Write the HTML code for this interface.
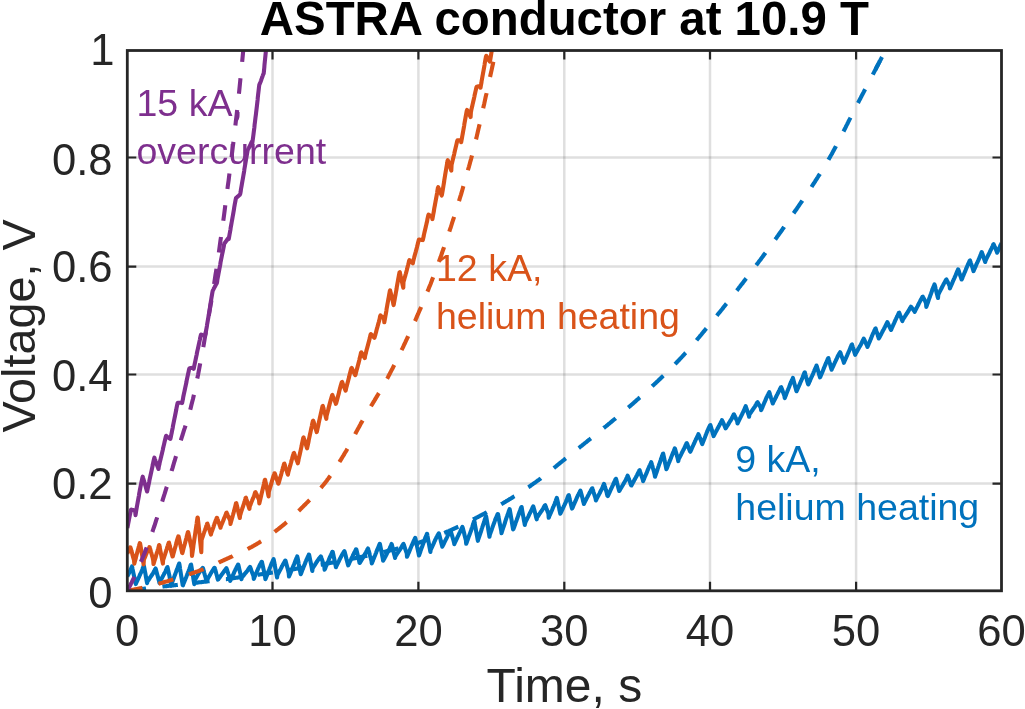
<!DOCTYPE html>
<html lang="en"><head><meta charset="utf-8"><title>ASTRA conductor at 10.9 T</title><style>html,body{margin:0;padding:0;background:#fff;overflow:hidden}svg{display:block;filter:blur(0.45px)}</style></head><body>
<svg width="1025" height="709" viewBox="0 0 1025 709">
<rect width="1025" height="709" fill="#fff"/>
<defs><clipPath id="c"><rect x="127.3" y="50.5" width="874.2" height="540.3"/></clipPath></defs>
<path d="M272.5 50.5V590.8M418.4 50.5V590.8M564.3 50.5V590.8M710.0 50.5V590.8M856.1 50.5V590.8" stroke="#262626" stroke-opacity="0.15" stroke-width="2.5" fill="none"/>
<path d="M127.3 483.6H1001.5M127.3 374.5H1001.5M127.3 266.6H1001.5M127.3 157.5H1001.5" stroke="#262626" stroke-opacity="0.15" stroke-width="2.5" fill="none"/>
<g clip-path="url(#c)" fill="none" stroke-linejoin="round">
<path d="M127.3 576.5L127.6 575.9L127.9 575.3L128.2 574.7L128.5 574.2L128.8 573.6L129.0 573.0L129.3 572.5L129.6 571.9L129.9 571.2L130.2 570.5L130.5 569.9L130.8 569.2L131.1 568.5L131.4 567.8L131.7 567.2L132.0 566.5L132.3 567.5L132.5 568.9L132.8 570.3L133.1 571.7L133.4 573.1L133.7 574.5L134.0 575.9L134.3 577.3L134.6 578.7L134.9 580.1L135.2 581.5L135.5 582.9L135.8 584.1L136.0 583.5L136.3 582.8L136.6 582.2L136.9 581.5L137.2 580.9L137.5 580.2L137.8 579.6L138.1 579.0L138.4 578.3L138.7 577.7L139.0 577.0L139.2 576.4L139.5 575.8L139.8 575.1L140.1 574.5L140.4 573.8L140.7 573.2L141.0 572.6L141.3 571.9L141.6 571.2L141.9 570.5L142.2 569.7L142.5 569.0L142.7 568.2L143.0 567.4L143.3 566.7L143.6 565.9L143.9 565.9L144.2 567.4L144.5 569.0L144.8 570.6L145.1 572.2L145.4 573.7L145.7 575.3L145.9 576.9L146.2 578.4L146.5 580.0L146.8 581.6L147.1 583.2L147.4 581.6L147.7 581.2L148.0 580.7L148.3 580.3L148.6 579.9L148.9 579.4L149.2 579.0L149.4 578.6L149.7 578.1L150.0 577.7L150.3 577.3L150.6 576.8L150.9 576.4L151.2 576.0L151.5 575.6L151.8 575.1L152.1 574.7L152.4 574.3L152.7 573.8L152.9 573.4L153.2 573.0L153.5 572.4L153.8 571.8L154.1 571.3L154.4 570.7L154.7 570.1L155.0 569.6L155.3 569.0L155.6 568.5L155.9 569.2L156.1 570.3L156.4 571.4L156.7 572.5L157.0 573.6L157.3 574.7L157.6 575.8L157.9 576.9L158.2 578.0L158.5 579.1L158.8 580.2L159.1 581.3L159.4 582.8L159.6 582.3L159.9 581.7L160.2 581.2L160.5 580.6L160.8 580.1L161.1 579.5L161.4 579.0L161.7 578.5L162.0 577.9L162.3 577.4L162.6 576.8L162.9 576.3L163.1 575.8L163.4 575.2L163.7 574.7L164.0 574.1L164.3 573.6L164.6 573.0L164.9 572.5L165.2 571.9L165.5 571.3L165.8 570.6L166.1 569.9L166.3 569.3L166.6 568.6L166.9 567.9L167.2 567.3L167.5 567.2L167.8 568.5L168.1 569.9L168.4 571.2L168.7 572.6L169.0 573.9L169.3 575.3L169.6 576.6L169.8 578.0L170.1 579.3L170.4 580.6L170.7 582.0L171.0 585.6L171.3 584.8L171.6 584.0L171.9 583.2L172.2 582.4L172.5 581.6L172.8 580.8L173.0 580.0L173.3 579.2L173.6 578.5L173.9 577.7L174.2 576.9L174.5 576.1L174.8 575.3L175.1 574.5L175.4 573.7L175.7 572.9L176.0 572.1L176.3 571.3L176.5 570.5L176.8 569.7L177.1 568.9L177.4 568.2L177.7 567.4L178.0 566.6L178.3 565.8L178.6 565.1L178.9 564.3L179.2 563.5L179.5 564.8L179.8 566.7L180.0 568.5L180.3 570.4L180.6 572.2L180.9 574.0L181.2 575.9L181.5 577.7L181.8 579.5L182.1 581.4L182.4 583.2L182.7 585.1L183.0 585.3L183.2 584.5L183.5 583.8L183.8 583.1L184.1 582.3L184.4 581.6L184.7 580.9L185.0 580.1L185.3 579.4L185.6 578.6L185.9 577.9L186.2 577.2L186.5 576.4L186.7 575.7L187.0 575.0L187.3 574.2L187.6 573.5L187.9 572.8L188.2 572.0L188.5 571.3L188.8 570.5L189.1 569.7L189.4 568.9L189.7 568.0L190.0 567.2L190.2 566.4L190.5 565.5L190.8 564.7L191.1 564.6L191.4 566.4L191.7 568.2L192.0 570.0L192.3 571.7L192.6 573.5L192.9 575.3L193.2 577.1L193.4 578.9L193.7 580.6L194.0 582.4L194.3 584.2L194.6 580.4L194.9 579.9L195.2 579.4L195.5 579.0L195.8 578.5L196.1 578.0L196.4 577.5L196.7 577.0L196.9 576.5L197.2 576.0L197.5 575.5L197.8 575.0L198.1 574.5L198.4 574.0L198.7 573.5L199.0 573.0L199.3 572.5L199.6 572.1L199.9 571.6L200.1 571.1L200.4 570.6L200.7 570.2L201.0 569.9L201.3 569.5L201.6 569.2L201.9 568.9L202.2 568.5L202.5 568.2L202.8 567.8L203.1 568.6L203.4 569.6L203.6 570.7L203.9 571.7L204.2 572.8L204.5 573.8L204.8 574.9L205.1 575.9L205.4 576.9L205.7 578.0L206.0 579.0L206.3 580.1L206.6 580.7L206.9 580.2L207.1 579.7L207.4 579.2L207.7 578.7L208.0 578.2L208.3 577.7L208.6 577.2L208.9 576.7L209.2 576.2L209.5 575.7L209.8 575.2L210.1 574.7L210.3 574.3L210.6 573.8L210.9 573.3L211.2 572.8L211.5 572.3L211.8 571.8L212.1 571.3L212.4 570.8L212.7 570.4L213.0 569.9L213.3 569.5L213.6 569.1L213.8 568.6L214.1 568.2L214.4 567.8L214.7 567.8L215.0 568.9L215.3 569.9L215.6 571.0L215.9 572.1L216.2 573.2L216.5 574.3L216.8 575.3L217.1 576.4L217.3 577.5L217.6 578.6L217.9 579.6L218.2 579.4L218.5 579.0L218.8 578.6L219.1 578.2L219.4 577.8L219.7 577.4L220.0 577.0L220.3 576.6L220.5 576.2L220.8 575.8L221.1 575.4L221.4 575.0L221.7 574.6L222.0 574.2L222.3 573.8L222.6 573.4L222.9 573.0L223.2 572.6L223.5 572.2L223.8 571.8L224.0 571.4L224.3 571.0L224.6 570.6L224.9 570.2L225.2 569.8L225.5 569.4L225.8 569.0L226.1 568.6L226.4 568.2L226.7 568.8L227.0 569.7L227.3 570.6L227.5 571.5L227.8 572.3L228.1 573.2L228.4 574.1L228.7 574.9L229.0 575.8L229.3 576.7L229.6 577.6L229.9 578.4L230.2 581.0L230.5 580.3L230.7 579.7L231.0 579.1L231.3 578.5L231.6 577.8L231.9 577.2L232.2 576.6L232.5 576.0L232.8 575.4L233.1 574.7L233.4 574.1L233.7 573.5L234.0 572.9L234.2 572.2L234.5 571.6L234.8 571.0L235.1 570.4L235.4 569.7L235.7 569.1L236.0 568.5L236.3 568.0L236.6 567.4L236.9 566.9L237.2 566.3L237.4 565.7L237.7 565.2L238.0 564.6L238.3 564.6L238.6 566.0L238.9 567.3L239.2 568.6L239.5 570.0L239.8 571.3L240.1 572.6L240.4 573.9L240.7 575.3L240.9 576.6L241.2 577.9L241.5 579.2L241.8 577.5L242.1 577.2L242.4 576.8L242.7 576.5L243.0 576.1L243.3 575.8L243.6 575.4L243.9 575.0L244.2 574.7L244.4 574.3L244.7 574.0L245.0 573.6L245.3 573.2L245.6 572.9L245.9 572.5L246.2 572.2L246.5 571.8L246.8 571.5L247.1 571.1L247.4 570.7L247.6 570.4L247.9 569.9L248.2 569.5L248.5 569.1L248.8 568.6L249.1 568.2L249.4 567.8L249.7 567.3L250.0 566.9L250.3 567.4L250.6 568.2L250.9 569.0L251.1 569.8L251.4 570.6L251.7 571.4L252.0 572.2L252.3 573.0L252.6 573.8L252.9 574.6L253.2 575.4L253.5 576.2L253.8 578.9L254.1 578.2L254.4 577.5L254.6 576.8L254.9 576.2L255.2 575.5L255.5 574.8L255.8 574.2L256.1 573.5L256.4 572.8L256.7 572.1L257.0 571.5L257.3 570.8L257.6 570.1L257.8 569.5L258.1 568.8L258.4 568.1L258.7 567.4L259.0 566.8L259.3 566.1L259.6 565.5L259.9 564.9L260.2 564.4L260.5 563.9L260.8 563.4L261.1 562.8L261.3 562.3L261.6 561.8L261.9 561.8L262.2 563.2L262.5 564.5L262.8 565.9L263.1 567.3L263.4 568.7L263.7 570.0L264.0 571.4L264.3 572.8L264.5 574.2L264.8 575.5L265.1 576.9L265.4 579.2L265.7 578.5L266.0 577.7L266.3 577.0L266.6 576.3L266.9 575.5L267.2 574.8L267.5 574.0L267.8 573.3L268.0 572.5L268.3 571.8L268.6 571.0L268.9 570.3L269.2 569.5L269.5 568.8L269.8 568.0L270.1 567.3L270.4 566.5L270.7 565.8L271.0 565.0L271.3 564.3L271.5 563.6L271.8 563.0L272.1 562.4L272.4 561.7L272.7 561.1L273.0 560.5L273.3 559.8L273.6 559.2L273.9 560.3L274.2 561.9L274.5 563.5L274.7 565.0L275.0 566.6L275.3 568.2L275.6 569.7L275.9 571.3L276.2 572.9L276.5 574.4L276.8 576.0L277.1 577.5L277.4 575.3L277.7 574.7L278.0 574.1L278.2 573.6L278.5 573.0L278.8 572.5L279.1 571.9L279.4 571.3L279.7 570.8L280.0 570.2L280.3 569.7L280.6 569.1L280.9 568.5L281.2 568.0L281.5 567.4L281.7 566.8L282.0 566.3L282.3 565.7L282.6 565.2L282.9 564.6L283.2 564.1L283.5 563.6L283.8 563.1L284.1 562.6L284.4 562.1L284.7 561.6L284.9 561.1L285.2 560.6L285.5 560.6L285.8 561.8L286.1 562.9L286.4 564.0L286.7 565.1L287.0 566.3L287.3 567.4L287.6 568.5L287.9 569.6L288.2 570.8L288.4 571.9L288.7 573.0L289.0 576.5L289.3 575.8L289.6 575.1L289.9 574.4L290.2 573.7L290.5 573.0L290.8 572.2L291.1 571.5L291.4 570.8L291.6 570.1L291.9 569.4L292.2 568.7L292.5 568.0L292.8 567.2L293.1 566.5L293.4 565.8L293.7 565.1L294.0 564.4L294.3 563.7L294.6 562.9L294.9 562.2L295.1 561.5L295.4 560.8L295.7 560.1L296.0 559.3L296.3 558.6L296.6 557.9L296.9 557.2L297.2 556.4L297.5 557.5L297.8 559.0L298.1 560.5L298.4 562.1L298.6 563.6L298.9 565.1L299.2 566.6L299.5 568.1L299.8 569.6L300.1 571.2L300.4 572.7L300.7 574.2L301.0 573.7L301.3 572.9L301.6 572.2L301.8 571.5L302.1 570.7L302.4 570.0L302.7 569.3L303.0 568.5L303.3 567.8L303.6 567.0L303.9 566.3L304.2 565.6L304.5 564.8L304.8 564.1L305.1 563.4L305.3 562.6L305.6 561.9L305.9 561.2L306.2 560.4L306.5 559.7L306.8 559.0L307.1 558.4L307.4 557.7L307.7 557.1L308.0 556.5L308.3 555.9L308.6 555.3L308.8 554.6L309.1 554.6L309.4 556.1L309.7 557.6L310.0 559.1L310.3 560.6L310.6 562.0L310.9 563.5L311.2 565.0L311.5 566.5L311.8 568.0L312.0 569.5L312.3 570.9L312.6 568.3L312.9 567.9L313.2 567.4L313.5 567.0L313.8 566.5L314.1 566.1L314.4 565.6L314.7 565.2L315.0 564.7L315.3 564.3L315.5 563.8L315.8 563.4L316.1 562.9L316.4 562.5L316.7 562.0L317.0 561.6L317.3 561.1L317.6 560.7L317.9 560.2L318.2 559.8L318.5 559.4L318.7 559.0L319.0 558.6L319.3 558.2L319.6 557.9L319.9 557.5L320.2 557.1L320.5 556.8L320.8 556.4L321.1 557.0L321.4 557.9L321.7 558.7L322.0 559.6L322.2 560.4L322.5 561.3L322.8 562.1L323.1 562.9L323.4 563.8L323.7 564.6L324.0 565.5L324.3 566.3L324.6 569.7L324.9 569.1L325.2 568.4L325.5 567.7L325.7 567.0L326.0 566.3L326.3 565.7L326.6 565.0L326.9 564.3L327.2 563.6L327.5 562.9L327.8 562.2L328.1 561.6L328.4 560.9L328.7 560.2L328.9 559.5L329.2 558.8L329.5 558.1L329.8 557.5L330.1 556.8L330.4 556.1L330.7 555.5L331.0 554.9L331.3 554.2L331.6 553.6L331.9 553.0L332.2 552.3L332.4 551.7L332.7 551.7L333.0 553.1L333.3 554.5L333.6 556.0L333.9 557.4L334.2 558.8L334.5 560.2L334.8 561.6L335.1 563.1L335.4 564.5L335.7 565.9L335.9 567.3L336.2 566.4L336.5 565.9L336.8 565.3L337.1 564.7L337.4 564.1L337.7 563.5L338.0 562.9L338.3 562.3L338.6 561.8L338.9 561.2L339.1 560.6L339.4 560.0L339.7 559.4L340.0 558.8L340.3 558.3L340.6 557.7L340.9 557.1L341.2 556.5L341.5 555.9L341.8 555.3L342.1 554.8L342.4 554.3L342.6 553.8L342.9 553.4L343.2 552.9L343.5 552.5L343.8 552.1L344.1 551.6L344.4 551.2L344.7 552.0L345.0 553.1L345.3 554.2L345.6 555.3L345.9 556.5L346.1 557.6L346.4 558.7L346.7 559.9L347.0 561.0L347.3 562.1L347.6 563.2L347.9 564.4L348.2 565.4L348.5 564.8L348.8 564.2L349.1 563.6L349.3 562.9L349.6 562.3L349.9 561.7L350.2 561.1L350.5 560.5L350.8 559.9L351.1 559.3L351.4 558.7L351.7 558.0L352.0 557.4L352.3 556.8L352.6 556.2L352.8 555.6L353.1 555.0L353.4 554.4L353.7 553.8L354.0 553.2L354.3 552.6L354.6 552.0L354.9 551.5L355.2 550.9L355.5 550.3L355.8 549.8L356.0 549.2L356.3 549.2L356.6 550.4L356.9 551.7L357.2 552.9L357.5 554.2L357.8 555.4L358.1 556.7L358.4 557.9L358.7 559.2L359.0 560.4L359.3 561.7L359.5 562.9L359.8 563.0L360.1 562.5L360.4 562.0L360.7 561.5L361.0 561.0L361.3 560.5L361.6 560.0L361.9 559.5L362.2 559.0L362.5 558.5L362.8 558.0L363.0 557.4L363.3 556.9L363.6 556.4L363.9 555.9L364.2 555.4L364.5 554.9L364.8 554.4L365.1 553.9L365.4 553.4L365.7 552.9L366.0 552.3L366.2 551.8L366.5 551.2L366.8 550.7L367.1 550.1L367.4 549.6L367.7 549.0L368.0 548.5L368.3 549.2L368.6 550.3L368.9 551.3L369.2 552.4L369.5 553.5L369.7 554.5L370.0 555.6L370.3 556.6L370.6 557.7L370.9 558.8L371.2 559.8L371.5 560.9L371.8 563.5L372.1 562.8L372.4 562.0L372.7 561.3L373.0 560.6L373.2 559.8L373.5 559.1L373.8 558.4L374.1 557.7L374.4 556.9L374.7 556.2L375.0 555.5L375.3 554.7L375.6 554.0L375.9 553.3L376.2 552.6L376.4 551.8L376.7 551.1L377.0 550.4L377.3 549.6L377.6 548.9L377.9 548.2L378.2 547.5L378.5 546.8L378.8 546.1L379.1 545.4L379.4 544.6L379.7 543.9L379.9 543.9L380.2 545.4L380.5 547.0L380.8 548.5L381.1 550.0L381.4 551.6L381.7 553.1L382.0 554.6L382.3 556.2L382.6 557.7L382.9 559.2L383.1 560.8L383.4 560.3L383.7 559.7L384.0 559.2L384.3 558.6L384.6 558.1L384.9 557.5L385.2 557.0L385.5 556.4L385.8 555.9L386.1 555.3L386.4 554.8L386.6 554.2L386.9 553.6L387.2 553.1L387.5 552.5L387.8 552.0L388.1 551.4L388.4 550.9L388.7 550.3L389.0 549.8L389.3 549.2L389.6 548.6L389.9 547.9L390.1 547.2L390.4 546.6L390.7 545.9L391.0 545.3L391.3 544.6L391.6 544.0L391.9 544.8L392.2 546.0L392.5 547.2L392.8 548.4L393.1 549.6L393.3 550.8L393.6 552.0L393.9 553.2L394.2 554.4L394.5 555.6L394.8 556.7L395.1 557.9L395.4 556.2L395.7 555.8L396.0 555.4L396.3 554.9L396.6 554.5L396.8 554.1L397.1 553.7L397.4 553.2L397.7 552.8L398.0 552.4L398.3 552.0L398.6 551.5L398.9 551.1L399.2 550.7L399.5 550.3L399.8 549.8L400.1 549.4L400.3 549.0L400.6 548.6L400.9 548.1L401.2 547.7L401.5 547.1L401.8 546.6L402.1 546.1L402.4 545.6L402.7 545.0L403.0 544.5L403.3 544.0L403.5 543.9L403.8 544.8L404.1 545.6L404.4 546.5L404.7 547.4L405.0 548.3L405.3 549.2L405.6 550.0L405.9 550.9L406.2 551.8L406.5 552.7L406.8 553.6L407.0 556.8L407.3 556.1L407.6 555.4L407.9 554.7L408.2 554.0L408.5 553.3L408.8 552.6L409.1 551.9L409.4 551.2L409.7 550.5L410.0 549.8L410.2 549.1L410.5 548.4L410.8 547.7L411.1 547.0L411.4 546.3L411.7 545.6L412.0 544.9L412.3 544.2L412.6 543.5L412.9 542.8L413.2 542.2L413.5 541.6L413.7 540.9L414.0 540.3L414.3 539.7L414.6 539.1L414.9 538.4L415.2 537.8L415.5 538.8L415.8 540.2L416.1 541.6L416.4 542.9L416.7 544.3L417.0 545.7L417.2 547.1L417.5 548.5L417.8 549.8L418.1 551.2L418.4 552.6L418.7 554.0L419.0 555.5L419.3 554.7L419.6 553.8L419.9 553.0L420.2 552.2L420.4 551.4L420.7 550.6L421.0 549.7L421.3 548.9L421.6 548.1L421.9 547.3L422.2 546.5L422.5 545.6L422.8 544.8L423.1 544.0L423.4 543.2L423.7 542.3L423.9 541.5L424.2 540.7L424.5 539.9L424.8 539.1L425.1 538.3L425.4 537.6L425.7 536.9L426.0 536.1L426.3 535.4L426.6 534.7L426.9 533.9L427.2 533.9L427.4 535.6L427.7 537.2L428.0 538.8L428.3 540.5L428.6 542.1L428.9 543.7L429.2 545.4L429.5 547.0L429.8 548.6L430.1 550.3L430.4 551.9L430.6 550.1L430.9 549.4L431.2 548.8L431.5 548.2L431.8 547.5L432.1 546.9L432.4 546.2L432.7 545.6L433.0 544.9L433.3 544.3L433.6 543.7L433.9 543.0L434.1 542.4L434.4 541.7L434.7 541.1L435.0 540.5L435.3 539.8L435.6 539.2L435.9 538.5L436.2 537.9L436.5 537.2L436.8 536.7L437.1 536.2L437.3 535.8L437.6 535.3L437.9 534.8L438.2 534.3L438.5 533.8L438.8 533.3L439.1 534.1L439.4 535.3L439.7 536.4L440.0 537.5L440.3 538.7L440.6 539.8L440.8 541.0L441.1 542.1L441.4 543.3L441.7 544.4L442.0 545.5L442.3 546.7L442.6 546.1L442.9 545.5L443.2 545.0L443.5 544.4L443.8 543.8L444.1 543.2L444.3 542.6L444.6 542.0L444.9 541.4L445.2 540.8L445.5 540.3L445.8 539.7L446.1 539.1L446.4 538.5L446.7 537.9L447.0 537.3L447.3 536.7L447.5 536.1L447.8 535.5L448.1 534.9L448.4 534.4L448.7 533.9L449.0 533.4L449.3 533.0L449.6 532.5L449.9 532.0L450.2 531.5L450.5 531.1L450.8 531.0L451.0 532.1L451.3 533.1L451.6 534.1L451.9 535.1L452.2 536.2L452.5 537.2L452.8 538.2L453.1 539.2L453.4 540.2L453.7 541.3L454.0 542.3L454.3 544.2L454.5 543.5L454.8 542.9L455.1 542.3L455.4 541.7L455.7 541.1L456.0 540.4L456.3 539.8L456.6 539.2L456.9 538.6L457.2 538.0L457.5 537.3L457.7 536.7L458.0 536.1L458.3 535.5L458.6 534.9L458.9 534.2L459.2 533.6L459.5 533.0L459.8 532.4L460.1 531.8L460.4 531.1L460.7 530.5L461.0 529.9L461.2 529.3L461.5 528.7L461.8 528.1L462.1 527.5L462.4 526.9L462.7 527.7L463.0 528.8L463.3 530.0L463.6 531.1L463.9 532.3L464.2 533.4L464.4 534.6L464.7 535.7L465.0 536.9L465.3 538.0L465.6 539.2L465.9 540.3L466.2 543.8L466.5 543.0L466.8 542.2L467.1 541.4L467.4 540.6L467.7 539.8L467.9 539.0L468.2 538.2L468.5 537.4L468.8 536.6L469.1 535.8L469.4 535.0L469.7 534.2L470.0 533.4L470.3 532.6L470.6 531.8L470.9 531.0L471.2 530.2L471.4 529.4L471.7 528.5L472.0 527.7L472.3 526.8L472.6 525.8L472.9 524.9L473.2 524.0L473.5 523.0L473.8 522.1L474.1 521.2L474.4 521.0L474.6 522.7L474.9 524.3L475.2 526.0L475.5 527.7L475.8 529.3L476.1 531.0L476.4 532.6L476.7 534.3L477.0 536.0L477.3 537.6L477.6 539.3L477.9 540.8L478.1 539.9L478.4 539.1L478.7 538.2L479.0 537.3L479.3 536.4L479.6 535.5L479.9 534.6L480.2 533.8L480.5 532.9L480.8 532.0L481.1 531.1L481.4 530.2L481.6 529.3L481.9 528.4L482.2 527.6L482.5 526.7L482.8 525.8L483.1 524.9L483.4 524.0L483.7 523.1L484.0 522.3L484.3 521.4L484.6 520.5L484.8 519.6L485.1 518.7L485.4 517.8L485.7 516.9L486.0 516.1L486.3 517.3L486.6 519.1L486.9 520.8L487.2 522.6L487.5 524.4L487.8 526.1L488.1 527.9L488.3 529.7L488.6 531.5L488.9 533.2L489.2 535.0L489.5 536.8L489.8 534.9L490.1 534.1L490.4 533.2L490.7 532.4L491.0 531.6L491.3 530.8L491.6 530.0L491.8 529.2L492.1 528.4L492.4 527.6L492.7 526.7L493.0 525.9L493.3 525.1L493.6 524.3L493.9 523.5L494.2 522.7L494.5 521.9L494.8 521.1L495.0 520.3L495.3 519.4L495.6 518.7L495.9 518.0L496.2 517.4L496.5 516.7L496.8 516.0L497.1 515.3L497.4 514.7L497.7 514.0L498.0 514.0L498.3 515.5L498.5 517.0L498.8 518.5L499.1 520.0L499.4 521.6L499.7 523.1L500.0 524.6L500.3 526.1L500.6 527.6L500.9 529.1L501.2 530.6L501.5 533.3L501.7 532.4L502.0 531.5L502.3 530.6L502.6 529.7L502.9 528.8L503.2 527.9L503.5 527.1L503.8 526.2L504.1 525.3L504.4 524.4L504.7 523.5L505.0 522.6L505.2 521.7L505.5 520.8L505.8 519.9L506.1 519.0L506.4 518.1L506.7 517.2L507.0 516.4L507.3 515.5L507.6 514.7L507.9 513.9L508.2 513.1L508.5 512.3L508.7 511.5L509.0 510.7L509.3 509.9L509.6 509.1L509.9 510.3L510.2 512.0L510.5 513.8L510.8 515.5L511.1 517.3L511.4 519.0L511.7 520.7L511.9 522.5L512.2 524.2L512.5 525.9L512.8 527.7L513.1 529.4L513.4 529.1L513.7 528.3L514.0 527.5L514.3 526.7L514.6 525.9L514.9 525.0L515.2 524.2L515.4 523.4L515.7 522.6L516.0 521.8L516.3 521.0L516.6 520.2L516.9 519.3L517.2 518.5L517.5 517.7L517.8 516.9L518.1 516.1L518.4 515.3L518.7 514.4L518.9 513.6L519.2 512.8L519.5 512.0L519.8 511.2L520.1 510.4L520.4 509.5L520.7 508.7L521.0 507.9L521.3 507.1L521.6 507.0L521.9 508.6L522.1 510.2L522.4 511.9L522.7 513.5L523.0 515.1L523.3 516.7L523.6 518.4L523.9 520.0L524.2 521.6L524.5 523.2L524.8 524.9L525.1 523.1L525.4 522.5L525.6 521.9L525.9 521.3L526.2 520.7L526.5 520.1L526.8 519.5L527.1 518.9L527.4 518.3L527.7 517.7L528.0 517.2L528.3 516.6L528.6 516.0L528.8 515.4L529.1 514.8L529.4 514.2L529.7 513.6L530.0 513.0L530.3 512.4L530.6 511.8L530.9 511.2L531.2 510.6L531.5 510.0L531.8 509.4L532.1 508.8L532.3 508.1L532.6 507.5L532.9 506.9L533.2 506.3L533.5 507.1L533.8 508.2L534.1 509.3L534.4 510.4L534.7 511.5L535.0 512.7L535.3 513.8L535.6 514.9L535.8 516.0L536.1 517.1L536.4 518.2L536.7 519.3L537.0 517.6L537.3 517.2L537.6 516.7L537.9 516.3L538.2 515.9L538.5 515.5L538.8 515.0L539.0 514.6L539.3 514.2L539.6 513.7L539.9 513.3L540.2 512.9L540.5 512.5L540.8 512.0L541.1 511.6L541.4 511.2L541.7 510.7L542.0 510.3L542.3 509.9L542.5 509.5L542.8 509.0L543.1 508.5L543.4 508.0L543.7 507.4L544.0 506.9L544.3 506.4L544.6 505.9L544.9 505.4L545.2 505.2L545.5 506.0L545.8 506.8L546.0 507.5L546.3 508.3L546.6 509.1L546.9 509.8L547.2 510.6L547.5 511.4L547.8 512.1L548.1 512.9L548.4 513.7L548.7 517.8L549.0 517.2L549.2 516.5L549.5 515.8L549.8 515.1L550.1 514.4L550.4 513.8L550.7 513.1L551.0 512.4L551.3 511.7L551.6 511.0L551.9 510.4L552.2 509.7L552.5 509.0L552.7 508.3L553.0 507.6L553.3 506.9L553.6 506.3L553.9 505.6L554.2 504.9L554.5 504.2L554.8 503.4L555.1 502.6L555.4 501.9L555.7 501.1L555.9 500.3L556.2 499.5L556.5 498.7L556.8 497.9L557.1 498.9L557.4 500.2L557.7 501.6L558.0 502.9L558.3 504.3L558.6 505.6L558.9 507.0L559.2 508.3L559.4 509.7L559.7 511.0L560.0 512.4L560.3 513.7L560.6 513.2L560.9 512.6L561.2 511.9L561.5 511.3L561.8 510.7L562.1 510.1L562.4 509.4L562.7 508.8L562.9 508.2L563.2 507.6L563.5 506.9L563.8 506.3L564.1 505.7L564.4 505.1L564.7 504.4L565.0 503.8L565.3 503.2L565.6 502.6L565.9 501.9L566.1 501.3L566.4 500.6L566.7 499.9L567.0 499.1L567.3 498.3L567.6 497.6L567.9 496.8L568.2 496.1L568.5 495.3L568.8 495.1L569.1 496.4L569.4 497.6L569.6 498.8L569.9 500.1L570.2 501.3L570.5 502.5L570.8 503.7L571.1 504.9L571.4 506.2L571.7 507.4L572.0 508.6L572.3 508.3L572.6 507.6L572.9 507.0L573.1 506.3L573.4 505.6L573.7 505.0L574.0 504.3L574.3 503.6L574.6 503.0L574.9 502.3L575.2 501.6L575.5 501.0L575.8 500.3L576.1 499.7L576.3 499.0L576.6 498.3L576.9 497.7L577.2 497.0L577.5 496.3L577.8 495.7L578.1 495.0L578.4 494.5L578.7 493.9L579.0 493.4L579.3 492.9L579.6 492.3L579.8 491.8L580.1 491.3L580.4 490.7L580.7 491.5L581.0 492.7L581.3 493.8L581.6 494.9L581.9 496.1L582.2 497.2L582.5 498.3L582.8 499.5L583.0 500.6L583.3 501.7L583.6 502.8L583.9 504.0L584.2 503.1L584.5 502.6L584.8 502.0L585.1 501.5L585.4 500.9L585.7 500.3L586.0 499.8L586.3 499.2L586.5 498.7L586.8 498.1L587.1 497.5L587.4 497.0L587.7 496.4L588.0 495.9L588.3 495.3L588.6 494.7L588.9 494.2L589.2 493.6L589.5 493.1L589.8 492.5L590.0 492.0L590.3 491.5L590.6 491.0L590.9 490.4L591.2 489.9L591.5 489.4L591.8 488.9L592.1 488.4L592.4 488.3L592.7 489.3L593.0 490.2L593.2 491.1L593.5 492.1L593.8 493.0L594.1 493.9L594.4 494.9L594.7 495.8L595.0 496.7L595.3 497.6L595.6 498.6L595.9 500.4L596.2 499.9L596.5 499.3L596.7 498.7L597.0 498.2L597.3 497.6L597.6 497.0L597.9 496.5L598.2 495.9L598.5 495.4L598.8 494.8L599.1 494.2L599.4 493.7L599.7 493.1L600.0 492.6L600.2 492.0L600.5 491.4L600.8 490.9L601.1 490.3L601.4 489.7L601.7 489.2L602.0 488.5L602.3 487.9L602.6 487.2L602.9 486.5L603.2 485.8L603.4 485.2L603.7 484.5L604.0 483.8L604.3 484.5L604.6 485.6L604.9 486.6L605.2 487.6L605.5 488.6L605.8 489.7L606.1 490.7L606.4 491.7L606.7 492.7L606.9 493.8L607.2 494.8L607.5 495.8L607.8 496.1L608.1 495.5L608.4 494.9L608.7 494.2L609.0 493.6L609.3 493.0L609.6 492.3L609.9 491.7L610.1 491.1L610.4 490.4L610.7 489.8L611.0 489.2L611.3 488.5L611.6 487.9L611.9 487.3L612.2 486.7L612.5 486.0L612.8 485.4L613.1 484.8L613.4 484.1L613.6 483.5L613.9 482.8L614.2 482.2L614.5 481.5L614.8 480.9L615.1 480.2L615.4 479.5L615.7 478.9L616.0 478.8L616.3 479.9L616.6 481.0L616.9 482.1L617.1 483.2L617.4 484.3L617.7 485.4L618.0 486.5L618.3 487.6L618.6 488.8L618.9 489.9L619.2 491.0L619.5 490.6L619.8 490.1L620.1 489.6L620.3 489.1L620.6 488.6L620.9 488.1L621.2 487.6L621.5 487.2L621.8 486.7L622.1 486.2L622.4 485.7L622.7 485.2L623.0 484.7L623.3 484.2L623.6 483.7L623.8 483.2L624.1 482.7L624.4 482.2L624.7 481.7L625.0 481.2L625.3 480.7L625.6 480.1L625.9 479.5L626.2 478.9L626.5 478.2L626.8 477.6L627.1 477.0L627.3 476.4L627.6 475.7L627.9 476.3L628.2 477.1L628.5 477.9L628.8 478.8L629.1 479.6L629.4 480.4L629.7 481.3L630.0 482.1L630.3 482.9L630.5 483.7L630.8 484.6L631.1 485.4L631.4 485.5L631.7 484.9L632.0 484.4L632.3 483.9L632.6 483.3L632.9 482.8L633.2 482.3L633.5 481.7L633.8 481.2L634.0 480.7L634.3 480.1L634.6 479.6L634.9 479.1L635.2 478.5L635.5 478.0L635.8 477.5L636.1 476.9L636.4 476.4L636.7 475.9L637.0 475.3L637.2 474.8L637.5 474.2L637.8 473.5L638.1 472.9L638.4 472.3L638.7 471.7L639.0 471.1L639.3 470.4L639.6 470.2L639.9 471.1L640.2 472.0L640.5 472.8L640.7 473.7L641.0 474.5L641.3 475.4L641.6 476.2L641.9 477.1L642.2 477.9L642.5 478.7L642.8 479.6L643.1 481.2L643.4 480.5L643.7 479.8L644.0 479.1L644.2 478.4L644.5 477.7L644.8 477.0L645.1 476.3L645.4 475.6L645.7 475.0L646.0 474.3L646.3 473.6L646.6 472.9L646.9 472.2L647.2 471.5L647.4 470.8L647.7 470.1L648.0 469.4L648.3 468.7L648.6 468.0L648.9 467.3L649.2 466.7L649.5 466.0L649.8 465.4L650.1 464.8L650.4 464.1L650.7 463.5L650.9 462.9L651.2 462.2L651.5 463.0L651.8 464.0L652.1 465.1L652.4 466.1L652.7 467.2L653.0 468.3L653.3 469.3L653.6 470.4L653.9 471.4L654.2 472.5L654.4 473.5L654.7 474.6L655.0 476.8L655.3 475.9L655.6 475.1L655.9 474.2L656.2 473.3L656.5 472.5L656.8 471.6L657.1 470.7L657.4 469.9L657.6 469.0L657.9 468.2L658.2 467.3L658.5 466.4L658.8 465.6L659.1 464.7L659.4 463.8L659.7 463.0L660.0 462.1L660.3 461.2L660.6 460.4L660.9 459.5L661.1 458.7L661.4 457.9L661.7 457.1L662.0 456.3L662.3 455.4L662.6 454.6L662.9 453.8L663.2 453.7L663.5 455.1L663.8 456.5L664.1 457.9L664.4 459.3L664.6 460.7L664.9 462.1L665.2 463.5L665.5 464.9L665.8 466.4L666.1 467.8L666.4 469.2L666.7 468.6L667.0 467.9L667.3 467.2L667.6 466.4L667.8 465.7L668.1 465.0L668.4 464.3L668.7 463.5L669.0 462.8L669.3 462.1L669.6 461.4L669.9 460.6L670.2 459.9L670.5 459.2L670.8 458.4L671.1 457.7L671.3 457.0L671.6 456.3L671.9 455.5L672.2 454.8L672.5 454.1L672.8 453.4L673.1 452.6L673.4 451.9L673.7 451.2L674.0 450.4L674.3 449.7L674.5 449.0L674.8 448.3L675.1 449.0L675.4 450.1L675.7 451.2L676.0 452.3L676.3 453.4L676.6 454.5L676.9 455.6L677.2 456.7L677.5 457.8L677.8 458.9L678.0 460.0L678.3 461.1L678.6 459.3L678.9 458.7L679.2 458.2L679.5 457.6L679.8 457.0L680.1 456.4L680.4 455.9L680.7 455.3L681.0 454.7L681.3 454.2L681.5 453.6L681.8 453.0L682.1 452.4L682.4 451.9L682.7 451.3L683.0 450.7L683.3 450.1L683.6 449.6L683.9 449.0L684.2 448.4L684.5 447.8L684.7 447.2L685.0 446.5L685.3 445.9L685.6 445.2L685.9 444.6L686.2 443.9L686.5 443.3L686.8 443.1L687.1 443.8L687.4 444.6L687.7 445.3L688.0 446.1L688.2 446.8L688.5 447.6L688.8 448.3L689.1 449.0L689.4 449.8L689.7 450.5L690.0 451.3L690.3 451.8L690.6 451.1L690.9 450.5L691.2 449.9L691.5 449.2L691.7 448.6L692.0 447.9L692.3 447.3L692.6 446.7L692.9 446.0L693.2 445.4L693.5 444.7L693.8 444.1L694.1 443.5L694.4 442.8L694.7 442.2L694.9 441.5L695.2 440.9L695.5 440.3L695.8 439.6L696.1 439.0L696.4 438.4L696.7 437.8L697.0 437.2L697.3 436.6L697.6 436.0L697.9 435.4L698.2 434.8L698.4 434.2L698.7 434.7L699.0 435.5L699.3 436.3L699.6 437.1L699.9 437.9L700.2 438.6L700.5 439.4L700.8 440.2L701.1 441.0L701.4 441.8L701.6 442.5L701.9 443.3L702.2 444.1L702.5 443.4L702.8 442.6L703.1 441.9L703.4 441.1L703.7 440.4L704.0 439.6L704.3 438.9L704.6 438.2L704.9 437.4L705.1 436.7L705.4 436.0L705.7 435.2L706.0 434.5L706.3 433.7L706.6 433.0L706.9 432.3L707.2 431.6L707.5 430.8L707.8 430.1L708.1 429.4L708.4 428.8L708.6 428.2L708.9 427.6L709.2 427.0L709.5 426.4L709.8 425.8L710.1 425.2L710.4 425.1L710.7 426.1L711.0 427.1L711.3 428.1L711.6 429.1L711.8 430.1L712.1 431.1L712.4 432.1L712.7 433.1L713.0 434.1L713.3 435.1L713.6 436.1L713.9 435.5L714.2 434.9L714.5 434.4L714.8 433.8L715.1 433.3L715.3 432.7L715.6 432.2L715.9 431.7L716.2 431.1L716.5 430.6L716.8 430.0L717.1 429.5L717.4 428.9L717.7 428.4L718.0 427.9L718.3 427.3L718.6 426.8L718.8 426.3L719.1 425.7L719.4 425.2L719.7 424.6L720.0 424.1L720.3 423.5L720.6 423.0L720.9 422.4L721.2 421.9L721.5 421.3L721.8 420.8L722.0 420.2L722.3 420.7L722.6 421.4L722.9 422.1L723.2 422.8L723.5 423.5L723.8 424.1L724.1 424.8L724.4 425.5L724.7 426.2L725.0 426.9L725.3 427.6L725.5 428.3L725.8 428.2L726.1 427.7L726.4 427.3L726.7 426.8L727.0 426.3L727.3 425.8L727.6 425.3L727.9 424.9L728.2 424.4L728.5 423.9L728.7 423.4L729.0 423.0L729.3 422.5L729.6 422.0L729.9 421.5L730.2 421.1L730.5 420.6L730.8 420.1L731.1 419.6L731.4 419.2L731.7 418.6L732.0 418.1L732.2 417.5L732.5 416.9L732.8 416.3L733.1 415.7L733.4 415.1L733.7 414.5L734.0 414.3L734.3 414.9L734.6 415.6L734.9 416.2L735.2 416.9L735.5 417.5L735.7 418.1L736.0 418.8L736.3 419.4L736.6 420.0L736.9 420.7L737.2 421.3L737.5 423.5L737.8 422.9L738.1 422.3L738.4 421.7L738.7 421.1L738.9 420.5L739.2 419.9L739.5 419.4L739.8 418.8L740.1 418.2L740.4 417.6L740.7 417.0L741.0 416.4L741.3 415.8L741.6 415.3L741.9 414.7L742.2 414.1L742.4 413.5L742.7 412.9L743.0 412.3L743.3 411.8L743.6 411.1L743.9 410.4L744.2 409.7L744.5 409.0L744.8 408.3L745.1 407.6L745.4 406.9L745.7 406.2L745.9 406.8L746.2 407.7L746.5 408.6L746.8 409.5L747.1 410.4L747.4 411.3L747.7 412.2L748.0 413.1L748.3 414.0L748.6 414.9L748.9 415.8L749.1 416.7L749.4 414.5L749.7 414.1L750.0 413.6L750.3 413.2L750.6 412.8L750.9 412.4L751.2 412.0L751.5 411.5L751.8 411.1L752.1 410.7L752.4 410.3L752.6 409.9L752.9 409.4L753.2 409.0L753.5 408.6L753.8 408.2L754.1 407.8L754.4 407.3L754.7 406.9L755.0 406.5L755.3 406.1L755.6 405.5L755.8 405.0L756.1 404.5L756.4 403.9L756.7 403.4L757.0 402.9L757.3 402.4L757.6 402.1L757.9 402.7L758.2 403.2L758.5 403.7L758.8 404.2L759.1 404.8L759.3 405.3L759.6 405.8L759.9 406.3L760.2 406.8L760.5 407.4L760.8 407.9L761.1 410.3L761.4 409.6L761.7 409.0L762.0 408.3L762.3 407.6L762.6 406.9L762.8 406.2L763.1 405.6L763.4 404.9L763.7 404.2L764.0 403.5L764.3 402.8L764.6 402.2L764.9 401.5L765.2 400.8L765.5 400.1L765.8 399.4L766.0 398.8L766.3 398.1L766.6 397.4L766.9 396.7L767.2 396.2L767.5 395.6L767.8 395.0L768.1 394.5L768.4 393.9L768.7 393.4L769.0 392.8L769.3 392.2L769.5 392.9L769.8 393.9L770.1 394.9L770.4 395.8L770.7 396.8L771.0 397.8L771.3 398.7L771.6 399.7L771.9 400.6L772.2 401.6L772.5 402.6L772.8 403.5L773.0 402.9L773.3 402.3L773.6 401.7L773.9 401.1L774.2 400.5L774.5 400.0L774.8 399.4L775.1 398.8L775.4 398.2L775.7 397.6L776.0 397.1L776.2 396.5L776.5 395.9L776.8 395.3L777.1 394.7L777.4 394.2L777.7 393.6L778.0 393.0L778.3 392.4L778.6 391.8L778.9 391.3L779.2 390.7L779.5 390.1L779.7 389.6L780.0 389.0L780.3 388.4L780.6 387.8L780.9 387.3L781.2 387.1L781.5 387.9L781.8 388.7L782.1 389.5L782.4 390.3L782.7 391.1L782.9 391.9L783.2 392.6L783.5 393.4L783.8 394.2L784.1 395.0L784.4 395.8L784.7 398.1L785.0 397.4L785.3 396.6L785.6 395.9L785.9 395.2L786.2 394.4L786.4 393.7L786.7 392.9L787.0 392.2L787.3 391.4L787.6 390.7L787.9 390.0L788.2 389.2L788.5 388.5L788.8 387.7L789.1 387.0L789.4 386.2L789.7 385.5L789.9 384.8L790.2 384.0L790.5 383.3L790.8 382.6L791.1 382.0L791.4 381.3L791.7 380.7L792.0 380.0L792.3 379.4L792.6 378.7L792.9 378.0L793.1 378.8L793.4 379.9L793.7 381.0L794.0 382.1L794.3 383.3L794.6 384.4L794.9 385.5L795.2 386.6L795.5 387.7L795.8 388.8L796.1 389.9L796.4 391.0L796.6 391.2L796.9 390.5L797.2 389.9L797.5 389.2L797.8 388.5L798.1 387.8L798.4 387.2L798.7 386.5L799.0 385.8L799.3 385.2L799.6 384.5L799.9 383.8L800.1 383.2L800.4 382.5L800.7 381.8L801.0 381.2L801.3 380.5L801.6 379.8L801.9 379.2L802.2 378.5L802.5 377.8L802.8 377.1L803.1 376.3L803.3 375.6L803.6 374.8L803.9 374.1L804.2 373.3L804.5 372.6L804.8 372.3L805.1 373.4L805.4 374.5L805.7 375.5L806.0 376.6L806.3 377.6L806.6 378.7L806.8 379.7L807.1 380.8L807.4 381.8L807.7 382.9L808.0 383.9L808.3 384.4L808.6 383.8L808.9 383.1L809.2 382.4L809.5 381.8L809.8 381.1L810.1 380.5L810.3 379.8L810.6 379.2L810.9 378.5L811.2 377.8L811.5 377.2L811.8 376.5L812.1 375.9L812.4 375.2L812.7 374.6L813.0 373.9L813.3 373.2L813.5 372.6L813.8 371.9L814.1 371.3L814.4 370.6L814.7 369.8L815.0 369.1L815.3 368.4L815.6 367.7L815.9 367.0L816.2 366.3L816.5 365.5L816.8 366.2L817.0 367.2L817.3 368.2L817.6 369.2L817.9 370.2L818.2 371.2L818.5 372.2L818.8 373.3L819.1 374.3L819.4 375.3L819.7 376.3L820.0 377.3L820.2 377.1L820.5 376.4L820.8 375.7L821.1 375.0L821.4 374.3L821.7 373.6L822.0 372.9L822.3 372.2L822.6 371.5L822.9 370.7L823.2 370.0L823.5 369.3L823.7 368.6L824.0 367.9L824.3 367.2L824.6 366.5L824.9 365.8L825.2 365.1L825.5 364.4L825.8 363.6L826.1 363.0L826.4 362.3L826.7 361.6L827.0 361.0L827.2 360.3L827.5 359.7L827.8 359.0L828.1 358.3L828.4 358.2L828.7 359.2L829.0 360.3L829.3 361.3L829.6 362.4L829.9 363.4L830.2 364.5L830.4 365.5L830.7 366.6L831.0 367.6L831.3 368.6L831.6 369.7L831.9 368.9L832.2 368.3L832.5 367.6L832.8 367.0L833.1 366.4L833.4 365.8L833.7 365.1L833.9 364.5L834.2 363.9L834.5 363.3L834.8 362.6L835.1 362.0L835.4 361.4L835.7 360.8L836.0 360.1L836.3 359.5L836.6 358.9L836.9 358.3L837.2 357.7L837.4 357.0L837.7 356.4L838.0 355.9L838.3 355.3L838.6 354.8L838.9 354.3L839.2 353.8L839.5 353.2L839.8 352.7L840.1 352.2L840.4 352.7L840.6 353.5L840.9 354.3L841.2 355.1L841.5 355.9L841.8 356.7L842.1 357.5L842.4 358.3L842.7 359.1L843.0 359.9L843.3 360.7L843.6 361.5L843.9 362.8L844.1 362.1L844.4 361.5L844.7 360.8L845.0 360.2L845.3 359.5L845.6 358.8L845.9 358.2L846.2 357.5L846.5 356.8L846.8 356.2L847.1 355.5L847.3 354.9L847.6 354.2L847.9 353.5L848.2 352.9L848.5 352.2L848.8 351.5L849.1 350.9L849.4 350.2L849.7 349.5L850.0 348.8L850.3 348.1L850.6 347.4L850.8 346.7L851.1 346.0L851.4 345.3L851.7 344.6L852.0 344.4L852.3 345.4L852.6 346.3L852.9 347.3L853.2 348.2L853.5 349.2L853.8 350.2L854.1 351.1L854.3 352.1L854.6 353.0L854.9 354.0L855.2 354.9L855.5 354.0L855.8 353.5L856.1 353.0L856.4 352.5L856.7 352.0L857.0 351.4L857.3 350.9L857.5 350.4L857.8 349.9L858.1 349.4L858.4 348.9L858.7 348.3L859.0 347.8L859.3 347.3L859.6 346.8L859.9 346.3L860.2 345.7L860.5 345.2L860.8 344.7L861.0 344.2L861.3 343.7L861.6 343.0L861.9 342.4L862.2 341.8L862.5 341.2L862.8 340.5L863.1 339.9L863.4 339.3L863.7 338.7L864.0 339.1L864.3 339.7L864.5 340.3L864.8 341.0L865.1 341.6L865.4 342.3L865.7 342.9L866.0 343.5L866.3 344.2L866.6 344.8L866.9 345.4L867.2 346.1L867.5 347.0L867.7 346.3L868.0 345.6L868.3 344.9L868.6 344.2L868.9 343.5L869.2 342.8L869.5 342.1L869.8 341.4L870.1 340.7L870.4 340.0L870.7 339.3L871.0 338.6L871.2 337.9L871.5 337.2L871.8 336.4L872.1 335.7L872.4 335.0L872.7 334.3L873.0 333.6L873.3 333.0L873.6 332.4L873.9 331.7L874.2 331.1L874.4 330.5L874.7 329.9L875.0 329.3L875.3 328.7L875.6 328.5L875.9 329.4L876.2 330.3L876.5 331.3L876.8 332.2L877.1 333.1L877.4 334.0L877.7 334.9L877.9 335.8L878.2 336.7L878.5 337.6L878.8 338.5L879.1 338.0L879.4 337.5L879.7 336.9L880.0 336.4L880.3 335.8L880.6 335.3L880.9 334.7L881.2 334.2L881.4 333.6L881.7 333.0L882.0 332.5L882.3 331.9L882.6 331.4L882.9 330.8L883.2 330.3L883.5 329.7L883.8 329.2L884.1 328.6L884.4 328.1L884.6 327.5L884.9 327.0L885.2 326.4L885.5 325.8L885.8 325.2L886.1 324.6L886.4 324.0L886.7 323.4L887.0 322.8L887.3 322.2L887.6 322.6L887.9 323.2L888.1 323.8L888.4 324.5L888.7 325.1L889.0 325.7L889.3 326.4L889.6 327.0L889.9 327.6L890.2 328.2L890.5 328.9L890.8 329.5L891.1 329.9L891.4 329.2L891.6 328.6L891.9 327.9L892.2 327.3L892.5 326.6L892.8 326.0L893.1 325.3L893.4 324.7L893.7 324.0L894.0 323.4L894.3 322.7L894.6 322.1L894.8 321.4L895.1 320.8L895.4 320.2L895.7 319.5L896.0 318.9L896.3 318.2L896.6 317.6L896.9 316.9L897.2 316.4L897.5 315.8L897.8 315.2L898.1 314.6L898.3 314.0L898.6 313.4L898.9 312.8L899.2 312.6L899.5 313.4L899.8 314.2L900.1 315.0L900.4 315.7L900.7 316.5L901.0 317.3L901.3 318.0L901.5 318.8L901.8 319.6L902.1 320.3L902.4 321.1L902.7 319.8L903.0 319.4L903.3 318.9L903.6 318.5L903.9 318.0L904.2 317.6L904.5 317.2L904.8 316.7L905.0 316.3L905.3 315.8L905.6 315.4L905.9 314.9L906.2 314.5L906.5 314.0L906.8 313.6L907.1 313.1L907.4 312.7L907.7 312.2L908.0 311.8L908.3 311.3L908.5 310.9L908.8 310.4L909.1 309.8L909.4 309.3L909.7 308.8L910.0 308.3L910.3 307.7L910.6 307.2L910.9 306.7L911.2 306.9L911.5 307.3L911.7 307.7L912.0 308.1L912.3 308.4L912.6 308.8L912.9 309.2L913.2 309.6L913.5 310.0L913.8 310.4L914.1 310.8L914.4 311.2L914.7 311.8L915.0 311.2L915.2 310.7L915.5 310.1L915.8 309.5L916.1 308.9L916.4 308.4L916.7 307.8L917.0 307.2L917.3 306.7L917.6 306.1L917.9 305.5L918.2 304.9L918.5 304.4L918.7 303.8L919.0 303.2L919.3 302.7L919.6 302.1L919.9 301.5L920.2 301.0L920.5 300.4L920.8 299.9L921.1 299.4L921.4 298.8L921.7 298.3L921.9 297.8L922.2 297.3L922.5 296.8L922.8 296.6L923.1 297.2L923.4 297.7L923.7 298.3L924.0 298.9L924.3 299.5L924.6 300.1L924.9 300.7L925.2 301.3L925.4 301.9L925.7 302.5L926.0 303.1L926.3 306.9L926.6 306.1L926.9 305.2L927.2 304.4L927.5 303.6L927.8 302.8L928.1 301.9L928.4 301.1L928.6 300.3L928.9 299.4L929.2 298.6L929.5 297.8L929.8 297.0L930.1 296.1L930.4 295.3L930.7 294.5L931.0 293.7L931.3 292.8L931.6 292.0L931.9 291.2L932.1 290.3L932.4 289.6L932.7 288.8L933.0 288.1L933.3 287.4L933.6 286.6L933.9 285.9L934.2 285.1L934.5 284.4L934.8 285.2L935.1 286.3L935.4 287.5L935.6 288.7L935.9 289.9L936.2 291.0L936.5 292.2L936.8 293.4L937.1 294.5L937.4 295.7L937.7 296.9L938.0 298.0L938.3 294.6L938.6 294.0L938.8 293.4L939.1 292.9L939.4 292.3L939.7 291.7L940.0 291.2L940.3 290.6L940.6 290.0L940.9 289.5L941.2 288.9L941.5 288.4L941.8 287.8L942.1 287.2L942.3 286.7L942.6 286.1L942.9 285.5L943.2 285.0L943.5 284.4L943.8 283.8L944.1 283.3L944.4 282.8L944.7 282.3L945.0 281.8L945.3 281.3L945.6 280.7L945.8 280.2L946.1 279.7L946.4 279.5L946.7 280.1L947.0 280.7L947.3 281.3L947.6 281.8L947.9 282.4L948.2 283.0L948.5 283.5L948.8 284.1L949.0 284.7L949.3 285.3L949.6 285.8L949.9 288.4L950.2 287.7L950.5 287.0L950.8 286.3L951.1 285.7L951.4 285.0L951.7 284.3L952.0 283.7L952.3 283.0L952.5 282.3L952.8 281.6L953.1 281.0L953.4 280.3L953.7 279.6L954.0 278.9L954.3 278.3L954.6 277.6L954.9 276.9L955.2 276.2L955.5 275.6L955.8 274.9L956.0 274.2L956.3 273.5L956.6 272.8L956.9 272.1L957.2 271.4L957.5 270.7L957.8 270.0L958.1 269.3L958.4 269.8L958.7 270.7L959.0 271.6L959.2 272.5L959.5 273.3L959.8 274.2L960.1 275.1L960.4 276.0L960.7 276.8L961.0 277.7L961.3 278.6L961.6 279.5L961.9 279.1L962.2 278.4L962.5 277.7L962.7 277.0L963.0 276.3L963.3 275.6L963.6 274.9L963.9 274.2L964.2 273.5L964.5 272.8L964.8 272.1L965.1 271.4L965.4 270.7L965.7 270.0L965.9 269.3L966.2 268.6L966.5 267.9L966.8 267.2L967.1 266.5L967.4 265.8L967.7 265.1L968.0 264.5L968.3 263.8L968.6 263.2L968.9 262.5L969.2 261.9L969.4 261.3L969.7 260.6L970.0 260.4L970.3 261.3L970.6 262.2L970.9 263.1L971.2 263.9L971.5 264.8L971.8 265.7L972.1 266.6L972.4 267.4L972.7 268.3L972.9 269.2L973.2 270.1L973.5 271.1L973.8 270.4L974.1 269.7L974.4 269.1L974.7 268.4L975.0 267.8L975.3 267.1L975.6 266.5L975.9 265.8L976.1 265.1L976.4 264.5L976.7 263.8L977.0 263.2L977.3 262.5L977.6 261.9L977.9 261.2L978.2 260.6L978.5 259.9L978.8 259.2L979.1 258.6L979.4 257.9L979.6 257.2L979.9 256.5L980.2 255.7L980.5 255.0L980.8 254.3L981.1 253.5L981.4 252.8L981.7 252.1L982.0 252.6L982.3 253.5L982.6 254.3L982.9 255.2L983.1 256.0L983.4 256.9L983.7 257.7L984.0 258.6L984.3 259.5L984.6 260.3L984.9 261.2L985.2 262.0L985.5 260.8L985.8 260.2L986.1 259.6L986.3 259.0L986.6 258.4L986.9 257.8L987.2 257.2L987.5 256.6L987.8 256.0L988.1 255.4L988.4 254.9L988.7 254.3L989.0 253.7L989.3 253.1L989.6 252.5L989.8 251.9L990.1 251.3L990.4 250.7L990.7 250.1L991.0 249.5L991.3 248.9L991.6 248.3L991.9 247.6L992.2 247.0L992.5 246.4L992.8 245.7L993.0 245.1L993.3 244.5L993.6 244.2L993.9 244.9L994.2 245.6L994.5 246.3L994.8 247.0L995.1 247.6L995.4 248.3L995.7 249.0L996.0 249.7L996.3 250.4L996.5 251.0L996.8 251.7L997.1 252.7L997.4 252.1L997.7 251.5L998.0 250.8L998.3 250.2L998.6 249.5L998.9 248.9L999.2 248.2L999.5 247.6L999.8 247.0L1000.0 246.3L1000.3 245.7L1000.6 245.0L1000.9 244.4L1001.2 243.7L1001.5 243.1" stroke="#0072BD" stroke-width="4.1"/>
<path d="M127.3 590.8L128.0 590.7L128.8 590.6L129.5 590.5L130.2 590.4L130.9 590.3L131.7 590.2L132.4 590.2L133.1 590.1L133.9 590.0L134.6 589.9L135.3 589.8L136.0 589.7L136.8 589.6L137.5 589.5L138.2 589.4L139.0 589.3L139.7 589.2L140.4 589.2L141.1 589.1L141.9 589.0L142.6 588.9L143.3 588.8L144.1 588.7L144.8 588.6L145.5 588.5L146.2 588.4L147.0 588.4L147.7 588.3L148.4 588.2L149.2 588.1L149.9 588.0L150.6 587.9L151.3 587.8L152.1 587.8L152.8 587.7L153.5 587.6L154.3 587.5L155.0 587.4L155.7 587.3L156.4 587.2L157.2 587.2L157.9 587.1L158.6 587.0L159.4 586.9L160.1 586.8L160.8 586.7L161.5 586.7L162.3 586.6L163.0 586.5L163.7 586.4L164.5 586.3L165.2 586.3L165.9 586.2L166.6 586.1L167.4 586.0L168.1 585.9L168.8 585.8L169.6 585.8L170.3 585.7L171.0 585.6L171.7 585.5L172.5 585.4L173.2 585.4L173.9 585.3L174.7 585.2L175.4 585.1L176.1 585.0L176.8 585.0L177.6 584.9L178.3 584.8L179.0 584.7L179.8 584.6L180.5 584.5L181.2 584.5L181.9 584.4L182.7 584.3L183.4 584.2L184.1 584.1L184.9 584.1L185.6 584.0L186.3 583.9L187.0 583.8L187.8 583.7L188.5 583.6L189.2 583.6L190.0 583.5L190.7 583.4L191.4 583.3L192.1 583.2L192.9 583.1L193.6 583.0L194.3 583.0L195.1 582.9L195.8 582.8L196.5 582.7L197.2 582.6L198.0 582.5L198.7 582.4L199.4 582.3L200.1 582.3L200.9 582.2L201.6 582.1L202.3 582.0L203.1 581.9L203.8 581.8L204.5 581.7L205.2 581.6L206.0 581.6L206.7 581.5L207.4 581.4L208.2 581.3L208.9 581.2L209.6 581.1L210.3 581.0L211.1 580.9L211.8 580.9L212.5 580.8L213.3 580.7L214.0 580.6L214.7 580.5L215.4 580.4L216.2 580.3L216.9 580.2L217.6 580.1L218.4 580.1L219.1 580.0L219.8 579.9L220.5 579.8L221.3 579.7L222.0 579.6L222.7 579.5L223.5 579.4L224.2 579.3L224.9 579.2L225.6 579.1L226.4 579.1L227.1 579.0L227.8 578.9L228.6 578.8L229.3 578.7L230.0 578.6L230.7 578.5L231.5 578.4L232.2 578.3L232.9 578.2L233.7 578.1L234.4 578.0L235.1 577.9L235.8 577.8L236.6 577.7L237.3 577.6L238.0 577.5L238.8 577.4L239.5 577.3L240.2 577.2L240.9 577.1L241.7 577.0L242.4 577.0L243.1 576.9L243.9 576.8L244.6 576.7L245.3 576.6L246.0 576.5L246.8 576.3L247.5 576.2L248.2 576.1L249.0 576.0L249.7 575.9L250.4 575.8L251.1 575.7L251.9 575.6L252.6 575.5L253.3 575.4L254.1 575.3L254.8 575.2L255.5 575.1L256.2 575.0L257.0 574.9L257.7 574.8L258.4 574.7L259.2 574.6L259.9 574.4L260.6 574.3L261.3 574.2L262.1 574.1L262.8 574.0L263.5 573.9L264.3 573.8L265.0 573.7L265.7 573.6L266.4 573.5L267.2 573.3L267.9 573.2L268.6 573.1L269.4 573.0L270.1 572.9L270.8 572.8L271.5 572.7L272.3 572.5L273.0 572.4L273.7 572.3L274.5 572.2L275.2 572.1L275.9 572.0L276.6 571.9L277.4 571.7L278.1 571.6L278.8 571.5L279.6 571.4L280.3 571.3L281.0 571.2L281.7 571.1L282.5 570.9L283.2 570.8L283.9 570.7L284.7 570.6L285.4 570.5L286.1 570.4L286.8 570.3L287.6 570.1L288.3 570.0L289.0 569.9L289.8 569.8L290.5 569.7L291.2 569.6L291.9 569.4L292.7 569.3L293.4 569.2L294.1 569.1L294.9 569.0L295.6 568.9L296.3 568.7L297.0 568.6L297.8 568.5L298.5 568.4L299.2 568.3L300.0 568.2L300.7 568.0L301.4 567.9L302.1 567.8L302.9 567.7L303.6 567.6L304.3 567.4L305.1 567.3L305.8 567.2L306.5 567.1L307.2 567.0L308.0 566.8L308.7 566.7L309.4 566.6L310.2 566.5L310.9 566.3L311.6 566.2L312.3 566.1L313.1 566.0L313.8 565.9L314.5 565.7L315.3 565.6L316.0 565.5L316.7 565.4L317.4 565.2L318.2 565.1L318.9 565.0L319.6 564.9L320.4 564.7L321.1 564.6L321.8 564.5L322.5 564.3L323.3 564.2L324.0 564.1L324.7 564.0L325.5 563.8L326.2 563.7L326.9 563.6L327.6 563.4L328.4 563.3L329.1 563.2L329.8 563.0L330.6 562.9L331.3 562.8L332.0 562.6L332.7 562.5L333.5 562.4L334.2 562.2L334.9 562.1L335.7 562.0L336.4 561.8L337.1 561.7L337.8 561.6L338.6 561.4L339.3 561.3L340.0 561.1L340.8 561.0L341.5 560.9L342.2 560.7L342.9 560.6L343.7 560.4L344.4 560.3L345.1 560.1L345.9 560.0L346.6 559.9L347.3 559.7L348.0 559.6L348.8 559.4L349.5 559.3L350.2 559.1L350.9 559.0L351.7 558.8L352.4 558.7L353.1 558.5L353.9 558.4L354.6 558.3L355.3 558.1L356.0 558.0L356.8 557.8L357.5 557.7L358.2 557.5L359.0 557.4L359.7 557.2L360.4 557.1L361.1 556.9L361.9 556.8L362.6 556.6L363.3 556.5L364.1 556.3L364.8 556.2L365.5 556.0L366.2 555.9L367.0 555.7L367.7 555.5L368.4 555.4L369.2 555.2L369.9 555.1L370.6 554.9L371.3 554.8L372.1 554.6L372.8 554.5L373.5 554.3L374.3 554.1L375.0 554.0L375.7 553.8L376.4 553.7L377.2 553.5L377.9 553.3L378.6 553.2L379.4 553.0L380.1 552.8L380.8 552.7L381.5 552.5L382.3 552.3L383.0 552.2L383.7 552.0L384.5 551.8L385.2 551.7L385.9 551.5L386.6 551.3L387.4 551.1L388.1 551.0L388.8 550.8L389.6 550.6L390.3 550.4L391.0 550.3L391.7 550.1L392.5 549.9L393.2 549.7L393.9 549.5L394.7 549.4L395.4 549.2L396.1 549.0L396.8 548.8L397.6 548.6L398.3 548.4L399.0 548.3L399.8 548.1L400.5 547.9L401.2 547.7L401.9 547.5L402.7 547.3L403.4 547.1L404.1 546.9L404.9 546.7L405.6 546.5L406.3 546.3L407.0 546.1L407.8 545.9L408.5 545.7L409.2 545.5L410.0 545.3L410.7 545.1L411.4 544.9L412.1 544.7L412.9 544.5L413.6 544.2L414.3 544.0L415.1 543.8L415.8 543.6L416.5 543.4L417.2 543.2L418.0 542.9L418.7 542.7L419.4 542.5L420.2 542.3L420.9 542.0L421.6 541.8L422.3 541.5L423.1 541.3L423.8 541.1L424.5 540.8L425.3 540.5L426.0 540.3L426.7 540.0L427.4 539.8L428.2 539.5L428.9 539.2L429.6 538.9L430.4 538.7L431.1 538.4L431.8 538.1L432.5 537.8L433.3 537.5L434.0 537.2L434.7 536.9L435.5 536.7L436.2 536.4L436.9 536.1L437.6 535.8L438.4 535.5L439.1 535.1L439.8 534.8L440.6 534.5L441.3 534.2L442.0 533.9L442.7 533.6L443.5 533.3L444.2 533.0L444.9 532.7L445.7 532.3L446.4 532.0L447.1 531.7L447.8 531.4L448.6 531.1L449.3 530.8L450.0 530.4L450.8 530.1L451.5 529.8L452.2 529.5L452.9 529.2L453.7 528.8L454.4 528.5L455.1 528.2L455.9 527.8L456.6 527.5L457.3 527.2L458.0 526.8L458.8 526.5L459.5 526.2L460.2 525.8L461.0 525.5L461.7 525.1L462.4 524.8L463.1 524.4L463.9 524.1L464.6 523.7L465.3 523.3L466.1 523.0L466.8 522.6L467.5 522.3L468.2 521.9L469.0 521.5L469.7 521.2L470.4 520.8L471.2 520.4L471.9 520.1L472.6 519.7L473.3 519.3L474.1 518.9L474.8 518.6L475.5 518.2L476.3 517.8L477.0 517.4L477.7 517.1L478.4 516.7L479.2 516.3L479.9 515.9L480.6 515.5L481.4 515.2L482.1 514.8L482.8 514.4L483.5 514.0L484.3 513.6L485.0 513.2L485.7 512.8L486.5 512.5L487.2 512.1L487.9 511.7L488.6 511.3L489.4 510.9L490.1 510.5L490.8 510.1L491.6 509.7L492.3 509.3L493.0 508.9L493.7 508.5L494.5 508.1L495.2 507.7L495.9 507.3L496.6 506.8L497.4 506.4L498.1 506.0L498.8 505.6L499.6 505.2L500.3 504.8L501.0 504.3L501.7 503.9L502.5 503.5L503.2 503.1L503.9 502.6L504.7 502.2L505.4 501.8L506.1 501.3L506.8 500.9L507.6 500.5L508.3 500.0L509.0 499.6L509.8 499.1L510.5 498.7L511.2 498.3L511.9 497.8L512.7 497.4L513.4 496.9L514.1 496.4L514.9 496.0L515.6 495.5L516.3 495.1L517.0 494.6L517.8 494.2L518.5 493.7L519.2 493.2L520.0 492.7L520.7 492.3L521.4 491.8L522.1 491.3L522.9 490.9L523.6 490.4L524.3 489.9L525.1 489.4L525.8 488.9L526.5 488.4L527.2 487.9L528.0 487.4L528.7 487.0L529.4 486.5L530.2 486.0L530.9 485.5L531.6 484.9L532.3 484.4L533.1 483.9L533.8 483.4L534.5 482.9L535.3 482.4L536.0 481.9L536.7 481.3L537.4 480.8L538.2 480.3L538.9 479.8L539.6 479.2L540.4 478.7L541.1 478.1L541.8 477.6L542.5 477.0L543.3 476.5L544.0 475.9L544.7 475.3L545.5 474.8L546.2 474.2L546.9 473.6L547.6 473.0L548.4 472.5L549.1 471.9L549.8 471.3L550.6 470.7L551.3 470.1L552.0 469.5L552.7 468.9L553.5 468.4L554.2 467.8L554.9 467.2L555.7 466.6L556.4 466.0L557.1 465.4L557.8 464.8L558.6 464.2L559.3 463.6L560.0 463.0L560.8 462.4L561.5 461.9L562.2 461.3L562.9 460.7L563.7 460.1L564.4 459.5L565.1 458.9L565.9 458.3L566.6 457.8L567.3 457.2L568.0 456.6L568.8 456.0L569.5 455.4L570.2 454.8L571.0 454.3L571.7 453.7L572.4 453.1L573.1 452.5L573.9 451.9L574.6 451.4L575.3 450.8L576.1 450.2L576.8 449.6L577.5 449.0L578.2 448.5L579.0 447.9L579.7 447.3L580.4 446.7L581.2 446.1L581.9 445.6L582.6 445.0L583.3 444.4L584.1 443.8L584.8 443.2L585.5 442.7L586.3 442.1L587.0 441.5L587.7 440.9L588.4 440.3L589.2 439.8L589.9 439.2L590.6 438.6L591.4 438.0L592.1 437.4L592.8 436.8L593.5 436.3L594.3 435.7L595.0 435.1L595.7 434.5L596.5 433.9L597.2 433.3L597.9 432.7L598.6 432.2L599.4 431.6L600.1 431.0L600.8 430.4L601.6 429.8L602.3 429.2L603.0 428.6L603.7 428.0L604.5 427.4L605.2 426.8L605.9 426.3L606.7 425.7L607.4 425.1L608.1 424.5L608.8 423.9L609.6 423.3L610.3 422.7L611.0 422.1L611.8 421.5L612.5 420.9L613.2 420.3L613.9 419.7L614.7 419.1L615.4 418.5L616.1 417.9L616.9 417.2L617.6 416.6L618.3 416.0L619.0 415.4L619.8 414.8L620.5 414.2L621.2 413.6L622.0 413.0L622.7 412.4L623.4 411.7L624.1 411.1L624.9 410.5L625.6 409.9L626.3 409.3L627.1 408.6L627.8 408.0L628.5 407.4L629.2 406.8L630.0 406.1L630.7 405.5L631.4 404.9L632.2 404.2L632.9 403.6L633.6 403.0L634.3 402.3L635.1 401.7L635.8 401.0L636.5 400.4L637.2 399.7L638.0 399.1L638.7 398.5L639.4 397.8L640.2 397.2L640.9 396.5L641.6 395.9L642.3 395.2L643.1 394.5L643.8 393.9L644.5 393.2L645.3 392.6L646.0 391.9L646.7 391.3L647.4 390.6L648.2 389.9L648.9 389.3L649.6 388.6L650.4 387.9L651.1 387.3L651.8 386.6L652.5 385.9L653.3 385.2L654.0 384.6L654.7 383.9L655.5 383.2L656.2 382.5L656.9 381.9L657.6 381.2L658.4 380.5L659.1 379.8L659.8 379.1L660.6 378.4L661.3 377.7L662.0 377.0L662.7 376.3L663.5 375.6L664.2 374.9L664.9 374.2L665.7 373.5L666.4 372.8L667.1 372.1L667.8 371.3L668.6 370.6L669.3 369.9L670.0 369.2L670.8 368.4L671.5 367.7L672.2 367.0L672.9 366.2L673.7 365.5L674.4 364.8L675.1 364.0L675.9 363.3L676.6 362.5L677.3 361.8L678.0 361.0L678.8 360.2L679.5 359.5L680.2 358.7L681.0 357.9L681.7 357.1L682.4 356.4L683.1 355.6L683.9 354.8L684.6 354.0L685.3 353.2L686.1 352.4L686.8 351.5L687.5 350.7L688.2 349.9L689.0 349.1L689.7 348.2L690.4 347.4L691.2 346.6L691.9 345.7L692.6 344.9L693.3 344.0L694.1 343.2L694.8 342.3L695.5 341.4L696.3 340.6L697.0 339.7L697.7 338.8L698.4 338.0L699.2 337.1L699.9 336.2L700.6 335.4L701.4 334.5L702.1 333.6L702.8 332.7L703.5 331.8L704.3 331.0L705.0 330.1L705.7 329.2L706.5 328.3L707.2 327.4L707.9 326.5L708.6 325.7L709.4 324.8L710.1 323.9L710.8 323.0L711.6 322.1L712.3 321.2L713.0 320.3L713.7 319.4L714.5 318.6L715.2 317.7L715.9 316.8L716.7 315.9L717.4 315.0L718.1 314.1L718.8 313.2L719.6 312.3L720.3 311.4L721.0 310.5L721.8 309.6L722.5 308.7L723.2 307.7L723.9 306.8L724.7 305.9L725.4 305.0L726.1 304.1L726.9 303.2L727.6 302.3L728.3 301.3L729.0 300.4L729.8 299.5L730.5 298.6L731.2 297.7L732.0 296.7L732.7 295.8L733.4 294.9L734.1 294.0L734.9 293.0L735.6 292.1L736.3 291.2L737.1 290.2L737.8 289.3L738.5 288.4L739.2 287.4L740.0 286.5L740.7 285.5L741.4 284.6L742.2 283.7L742.9 282.7L743.6 281.8L744.3 280.8L745.1 279.9L745.8 278.9L746.5 278.0L747.3 277.0L748.0 276.1L748.7 275.1L749.4 274.2L750.2 273.2L750.9 272.2L751.6 271.3L752.4 270.3L753.1 269.4L753.8 268.4L754.5 267.4L755.3 266.5L756.0 265.5L756.7 264.6L757.5 263.6L758.2 262.6L758.9 261.6L759.6 260.7L760.4 259.7L761.1 258.7L761.8 257.8L762.6 256.8L763.3 255.8L764.0 254.8L764.7 253.8L765.5 252.9L766.2 251.9L766.9 250.9L767.7 249.9L768.4 248.9L769.1 247.9L769.8 246.9L770.6 245.9L771.3 244.9L772.0 243.9L772.8 242.9L773.5 241.9L774.2 240.9L774.9 239.9L775.7 238.9L776.4 237.9L777.1 236.8L777.9 235.8L778.6 234.8L779.3 233.8L780.0 232.8L780.8 231.7L781.5 230.7L782.2 229.7L782.9 228.6L783.7 227.6L784.4 226.5L785.1 225.5L785.9 224.4L786.6 223.4L787.3 222.3L788.0 221.3L788.8 220.2L789.5 219.2L790.2 218.1L791.0 217.1L791.7 216.0L792.4 215.0L793.1 213.9L793.9 212.9L794.6 211.8L795.3 210.8L796.1 209.7L796.8 208.7L797.5 207.6L798.2 206.6L799.0 205.5L799.7 204.4L800.4 203.4L801.2 202.3L801.9 201.3L802.6 200.2L803.3 199.1L804.1 198.0L804.8 197.0L805.5 195.9L806.3 194.8L807.0 193.7L807.7 192.6L808.4 191.5L809.2 190.5L809.9 189.4L810.6 188.3L811.4 187.2L812.1 186.0L812.8 184.9L813.5 183.8L814.3 182.7L815.0 181.6L815.7 180.4L816.5 179.3L817.2 178.1L817.9 177.0L818.6 175.8L819.4 174.7L820.1 173.5L820.8 172.4L821.6 171.2L822.3 170.0L823.0 168.8L823.7 167.6L824.5 166.4L825.2 165.2L825.9 164.0L826.7 162.8L827.4 161.5L828.1 160.3L828.8 159.1L829.6 157.8L830.3 156.5L831.0 155.3L831.8 154.0L832.5 152.6L833.2 151.3L833.9 150.0L834.7 148.6L835.4 147.3L836.1 145.9L836.9 144.5L837.6 143.1L838.3 141.7L839.0 140.3L839.8 138.9L840.5 137.5L841.2 136.0L842.0 134.6L842.7 133.1L843.4 131.7L844.1 130.3L844.9 128.8L845.6 127.4L846.3 125.9L847.1 124.4L847.8 123.0L848.5 121.5L849.2 120.1L850.0 118.6L850.7 117.2L851.4 115.8L852.2 114.3L852.9 112.9L853.6 111.5L854.3 110.0L855.1 108.6L855.8 107.2L856.5 105.8L857.3 104.4L858.0 103.0L858.7 101.6L859.4 100.2L860.2 98.8L860.9 97.4L861.6 96.0L862.4 94.6L863.1 93.2L863.8 91.9L864.5 90.5L865.3 89.1L866.0 87.7L866.7 86.3L867.5 84.9L868.2 83.5L868.9 82.1L869.6 80.7L870.4 79.3L871.1 77.9L871.8 76.5L872.6 75.1L873.3 73.7L874.0 72.3L874.7 70.9L875.5 69.5L876.2 68.1L876.9 66.7L877.7 65.3L878.4 63.9L879.1 62.6L879.8 61.2L880.6 59.8L881.3 58.4L882.0 57.0" stroke="#0072BD" stroke-width="4.1" stroke-dasharray="15.5 16.5" stroke-dashoffset="28.6"/>
<path d="M875.5 69.5L876.2 68.1L876.9 66.7L877.7 65.3L878.4 63.9L879.1 62.6L879.8 61.2L880.6 59.8L881.3 58.4L882.0 57.0" stroke="#0072BD" stroke-width="4.1"/>
<path d="M127.3 553.7L127.6 553.0L127.9 552.3L128.2 551.6L128.5 551.0L128.8 550.3L129.0 549.6L129.3 549.0L129.6 548.4L129.9 547.9L130.2 547.3L130.5 547.5L130.8 548.5L131.1 549.6L131.4 550.7L131.7 551.7L132.0 552.8L132.3 553.9L132.5 554.9L132.8 556.0L133.1 557.1L133.4 558.1L133.7 559.2L134.0 560.3L134.3 563.6L134.6 562.5L134.9 561.4L135.2 560.3L135.5 559.2L135.8 558.1L136.0 557.0L136.3 555.9L136.6 554.8L136.9 553.7L137.2 552.6L137.5 551.5L137.8 550.4L138.1 549.3L138.4 548.2L138.7 547.1L139.0 546.0L139.2 545.1L139.5 544.1L139.8 543.2L140.1 543.4L140.4 545.2L140.7 546.9L141.0 548.7L141.3 550.4L141.6 552.2L141.9 553.9L142.2 555.6L142.5 557.4L142.7 559.1L143.0 560.9L143.3 562.6L143.6 564.4L143.9 559.6L144.2 559.0L144.5 558.3L144.8 557.6L145.1 556.9L145.4 556.2L145.7 555.5L145.9 554.8L146.2 554.1L146.5 553.4L146.8 552.7L147.1 552.1L147.4 551.4L147.7 550.7L148.0 550.0L148.3 549.3L148.6 548.7L148.9 548.2L149.2 547.6L149.4 547.1L149.7 547.3L150.0 548.4L150.3 549.4L150.6 550.5L150.9 551.6L151.2 552.6L151.5 553.7L151.8 554.8L152.1 555.9L152.4 556.9L152.7 558.0L152.9 559.1L153.2 560.2L153.5 564.0L153.8 563.1L154.1 562.1L154.4 561.1L154.7 560.2L155.0 559.2L155.3 558.3L155.6 557.3L155.9 556.3L156.1 555.4L156.4 554.4L156.7 553.5L157.0 552.5L157.3 551.5L157.6 550.6L157.9 549.6L158.2 548.6L158.5 547.4L158.8 546.2L159.1 545.0L159.4 545.1L159.6 546.7L159.9 548.2L160.2 549.8L160.5 551.4L160.8 552.9L161.1 554.5L161.4 556.0L161.7 557.5L162.0 559.1L162.3 560.6L162.6 562.1L162.9 563.6L163.1 560.2L163.4 559.3L163.7 558.4L164.0 557.5L164.3 556.6L164.6 555.7L164.9 554.8L165.2 553.9L165.5 552.9L165.8 552.0L166.1 551.1L166.3 550.2L166.6 549.3L166.9 548.3L167.2 547.4L167.5 546.5L167.8 545.6L168.1 544.6L168.4 543.7L168.7 542.8L169.0 542.7L169.3 543.9L169.6 545.0L169.8 546.1L170.1 547.3L170.4 548.4L170.7 549.6L171.0 550.7L171.3 551.9L171.6 553.0L171.9 554.2L172.2 555.3L172.5 556.5L172.8 556.4L173.0 555.3L173.3 554.3L173.6 553.2L173.9 552.1L174.2 551.0L174.5 549.9L174.8 548.8L175.1 547.7L175.4 546.6L175.7 545.6L176.0 544.5L176.3 543.4L176.5 542.3L176.8 541.2L177.1 540.1L177.4 539.1L177.7 538.2L178.0 537.3L178.3 536.4L178.6 536.5L178.9 537.8L179.2 539.2L179.5 540.5L179.8 541.9L180.0 543.3L180.3 544.6L180.6 546.0L180.9 547.4L181.2 548.7L181.5 550.1L181.8 551.4L182.1 552.8L182.4 553.0L182.7 551.9L183.0 550.8L183.2 549.7L183.5 548.6L183.8 547.5L184.1 546.4L184.4 545.3L184.7 544.3L185.0 543.2L185.3 542.1L185.6 541.0L185.9 539.9L186.2 538.8L186.5 537.7L186.7 536.6L187.0 535.5L187.3 534.4L187.6 533.3L187.9 532.1L188.2 532.1L188.5 533.5L188.8 534.9L189.1 536.3L189.4 537.7L189.7 539.1L190.0 540.5L190.2 541.9L190.5 543.3L190.8 544.6L191.1 546.0L191.4 547.4L191.7 548.8L192.0 555.9L192.3 553.9L192.6 551.9L192.9 549.8L193.2 547.8L193.4 545.7L193.7 543.7L194.0 541.6L194.3 539.6L194.6 537.6L194.9 535.5L195.2 533.5L195.5 531.4L195.8 529.4L196.1 527.3L196.4 525.3L196.7 523.3L196.9 521.4L197.2 519.5L197.5 517.5L197.8 517.7L198.1 520.6L198.4 523.5L198.7 526.3L199.0 529.2L199.3 532.1L199.6 534.9L199.9 537.8L200.1 540.7L200.4 543.5L200.7 546.4L201.0 549.3L201.3 552.1L201.6 539.8L201.9 539.0L202.2 538.1L202.5 537.3L202.8 536.4L203.1 535.6L203.4 534.7L203.6 533.9L203.9 533.1L204.2 532.2L204.5 531.4L204.8 530.5L205.1 529.7L205.4 528.8L205.7 528.0L206.0 527.1L206.3 526.3L206.6 525.4L206.9 524.6L207.1 523.8L207.4 523.7L207.7 524.6L208.0 525.5L208.3 526.5L208.6 527.4L208.9 528.3L209.2 529.2L209.5 530.1L209.8 531.0L210.1 531.9L210.3 532.8L210.6 533.7L210.9 534.6L211.2 533.3L211.5 532.4L211.8 531.6L212.1 530.8L212.4 530.0L212.7 529.1L213.0 528.3L213.3 527.5L213.6 526.6L213.8 525.8L214.1 525.0L214.4 524.1L214.7 523.3L215.0 522.4L215.3 521.6L215.6 520.8L215.9 520.0L216.2 519.3L216.5 518.5L216.8 517.8L217.1 517.8L217.3 518.6L217.6 519.4L217.9 520.3L218.2 521.1L218.5 521.9L218.8 522.8L219.1 523.6L219.4 524.4L219.7 525.3L220.0 526.1L220.3 526.9L220.5 527.7L220.8 526.5L221.1 525.8L221.4 525.1L221.7 524.3L222.0 523.6L222.3 522.9L222.6 522.2L222.9 521.5L223.2 520.8L223.5 520.1L223.8 519.3L224.0 518.6L224.3 517.9L224.6 517.2L224.9 516.5L225.2 515.7L225.5 515.0L225.8 514.3L226.1 513.6L226.4 512.8L226.7 512.7L227.0 513.4L227.3 514.0L227.5 514.7L227.8 515.4L228.1 516.0L228.4 516.7L228.7 517.3L229.0 518.0L229.3 518.6L229.6 519.3L229.9 519.9L230.2 520.6L230.5 524.0L230.7 522.9L231.0 521.9L231.3 520.8L231.6 519.8L231.9 518.7L232.2 517.7L232.5 516.6L232.8 515.5L233.1 514.5L233.4 513.4L233.7 512.4L234.0 511.3L234.2 510.3L234.5 509.2L234.8 508.1L235.1 507.0L235.4 505.8L235.7 504.5L236.0 503.3L236.3 503.1L236.6 504.4L236.9 505.6L237.2 506.8L237.4 508.1L237.7 509.3L238.0 510.5L238.3 511.8L238.6 513.0L238.9 514.3L239.2 515.5L239.5 516.7L239.8 518.0L240.1 515.4L240.4 514.5L240.7 513.6L240.9 512.7L241.2 511.8L241.5 510.9L241.8 510.0L242.1 509.1L242.4 508.3L242.7 507.4L243.0 506.5L243.3 505.6L243.6 504.7L243.9 503.8L244.2 502.9L244.4 502.0L244.7 501.1L245.0 500.0L245.3 499.0L245.6 497.9L245.9 497.7L246.2 498.7L246.5 499.6L246.8 500.5L247.1 501.5L247.4 502.4L247.6 503.3L247.9 504.2L248.2 505.2L248.5 506.1L248.8 507.0L249.1 508.0L249.4 508.9L249.7 506.5L250.0 505.8L250.3 505.1L250.6 504.4L250.9 503.6L251.1 502.9L251.4 502.2L251.7 501.5L252.0 500.8L252.3 500.0L252.6 499.3L252.9 498.6L253.2 497.9L253.5 497.2L253.8 496.4L254.1 495.7L254.4 494.9L254.6 494.1L254.9 493.2L255.2 492.3L255.5 492.1L255.8 492.7L256.1 493.4L256.4 494.0L256.7 494.7L257.0 495.3L257.3 495.9L257.6 496.6L257.8 497.2L258.1 497.8L258.4 498.5L258.7 499.1L259.0 499.8L259.3 503.4L259.6 502.2L259.9 501.0L260.2 499.8L260.5 498.5L260.8 497.3L261.1 496.1L261.3 494.9L261.6 493.7L261.9 492.5L262.2 491.2L262.5 490.0L262.8 488.8L263.1 487.6L263.4 486.3L263.7 485.1L264.0 483.9L264.3 482.5L264.5 481.2L264.8 479.9L265.1 479.8L265.4 481.2L265.7 482.5L266.0 483.9L266.3 485.3L266.6 486.7L266.9 488.1L267.2 489.5L267.5 490.9L267.8 492.3L268.0 493.6L268.3 495.0L268.6 496.4L268.9 491.7L269.2 490.7L269.5 489.7L269.8 488.7L270.1 487.7L270.4 486.7L270.7 485.7L271.0 484.7L271.3 483.7L271.5 482.7L271.8 481.7L272.1 480.7L272.4 479.7L272.7 478.7L273.0 477.7L273.3 476.7L273.6 475.7L273.9 474.9L274.2 474.1L274.5 473.2L274.7 473.2L275.0 474.0L275.3 474.9L275.6 475.8L275.9 476.7L276.2 477.5L276.5 478.4L276.8 479.3L277.1 480.2L277.4 481.0L277.7 481.9L278.0 482.8L278.2 483.6L278.5 483.7L278.8 482.7L279.1 481.6L279.4 480.6L279.7 479.5L280.0 478.5L280.3 477.4L280.6 476.4L280.9 475.3L281.2 474.3L281.5 473.2L281.7 472.1L282.0 471.1L282.3 470.0L282.6 469.0L282.9 467.9L283.2 466.9L283.5 465.9L283.8 464.8L284.1 463.8L284.4 463.7L284.7 464.6L284.9 465.5L285.2 466.4L285.5 467.4L285.8 468.3L286.1 469.2L286.4 470.1L286.7 471.0L287.0 471.9L287.3 472.8L287.6 473.8L287.9 474.7L288.2 473.0L288.4 472.0L288.7 470.9L289.0 469.9L289.3 468.8L289.6 467.8L289.9 466.7L290.2 465.7L290.5 464.6L290.8 463.5L291.1 462.5L291.4 461.4L291.6 460.3L291.9 459.3L292.2 458.2L292.5 457.1L292.8 456.1L293.1 455.1L293.4 454.2L293.7 453.2L294.0 453.0L294.3 453.8L294.6 454.6L294.9 455.4L295.1 456.1L295.4 456.9L295.7 457.7L296.0 458.4L296.3 459.2L296.6 460.0L296.9 460.7L297.2 461.5L297.5 462.2L297.8 463.3L298.1 462.0L298.4 460.8L298.6 459.4L298.9 458.1L299.2 456.8L299.5 455.5L299.8 454.2L300.1 452.8L300.4 451.5L300.7 450.1L301.0 448.8L301.3 447.4L301.6 446.0L301.8 444.7L302.1 443.3L302.4 441.9L302.7 440.5L303.0 439.2L303.3 437.8L303.6 437.4L303.9 438.4L304.2 439.3L304.5 440.2L304.8 441.1L305.1 442.0L305.3 442.9L305.6 443.8L305.9 444.7L306.2 445.7L306.5 446.6L306.8 447.5L307.1 448.4L307.4 446.9L307.7 445.5L308.0 444.1L308.3 442.7L308.6 441.3L308.8 439.9L309.1 438.5L309.4 437.1L309.7 435.7L310.0 434.3L310.3 433.0L310.6 431.6L310.9 430.2L311.2 428.8L311.5 427.5L311.8 426.1L312.0 424.8L312.3 423.5L312.6 422.2L312.9 420.9L313.2 420.6L313.5 421.5L313.8 422.5L314.1 423.4L314.4 424.4L314.7 425.4L315.0 426.3L315.3 427.3L315.5 428.2L315.8 429.2L316.1 430.2L316.4 431.1L316.7 432.1L317.0 431.1L317.3 429.8L317.6 428.4L317.9 427.1L318.2 425.7L318.5 424.4L318.7 423.1L319.0 421.7L319.3 420.4L319.6 419.1L319.9 417.7L320.2 416.4L320.5 415.1L320.8 413.8L321.1 412.4L321.4 411.1L321.7 409.8L322.0 408.6L322.2 407.4L322.5 406.2L322.8 406.0L323.1 407.1L323.4 408.2L323.7 409.2L324.0 410.3L324.3 411.3L324.6 412.4L324.9 413.5L325.2 414.5L325.5 415.6L325.7 416.7L326.0 417.7L326.3 418.8L326.6 415.7L326.9 414.6L327.2 413.5L327.5 412.4L327.8 411.3L328.1 410.2L328.4 409.0L328.7 407.9L328.9 406.8L329.2 405.7L329.5 404.6L329.8 403.5L330.1 402.4L330.4 401.3L330.7 400.1L331.0 399.0L331.3 398.0L331.6 397.0L331.9 396.1L332.2 395.2L332.4 395.0L332.7 395.7L333.0 396.5L333.3 397.2L333.6 398.0L333.9 398.7L334.2 399.4L334.5 400.2L334.8 400.9L335.1 401.7L335.4 402.4L335.7 403.2L335.9 403.9L336.2 403.1L336.5 402.0L336.8 400.9L337.1 399.7L337.4 398.6L337.7 397.5L338.0 396.3L338.3 395.2L338.6 394.1L338.9 393.0L339.1 391.8L339.4 390.7L339.7 389.5L340.0 388.4L340.3 387.3L340.6 386.1L340.9 385.1L341.2 384.1L341.5 383.1L341.8 382.1L342.1 381.9L342.4 382.6L342.6 383.4L342.9 384.1L343.2 384.9L343.5 385.6L343.8 386.3L344.1 387.1L344.4 387.8L344.7 388.5L345.0 389.2L345.3 390.0L345.6 390.7L345.9 389.6L346.1 388.4L346.4 387.3L346.7 386.2L347.0 385.0L347.3 383.9L347.6 382.7L347.9 381.6L348.2 380.5L348.5 379.3L348.8 378.2L349.1 377.0L349.3 375.9L349.6 374.7L349.9 373.6L350.2 372.4L350.5 371.3L350.8 370.2L351.1 369.2L351.4 368.2L351.7 367.9L352.0 368.5L352.3 369.1L352.6 369.7L352.8 370.4L353.1 371.0L353.4 371.6L353.7 372.2L354.0 372.8L354.3 373.4L354.6 374.0L354.9 374.6L355.2 375.2L355.5 374.8L355.8 373.7L356.0 372.5L356.3 371.4L356.6 370.3L356.9 369.2L357.2 368.1L357.5 367.0L357.8 365.8L358.1 364.7L358.4 363.6L358.7 362.4L359.0 361.3L359.3 360.2L359.5 359.0L359.8 357.9L360.1 356.7L360.4 355.4L360.7 354.1L361.0 352.8L361.3 352.3L361.6 352.8L361.9 353.3L362.2 353.7L362.5 354.2L362.8 354.7L363.0 355.2L363.3 355.7L363.6 356.2L363.9 356.6L364.2 357.1L364.5 357.6L364.8 358.1L365.1 355.9L365.4 354.8L365.7 353.7L366.0 352.6L366.2 351.5L366.5 350.4L366.8 349.3L367.1 348.2L367.4 347.1L367.7 346.0L368.0 344.9L368.3 343.7L368.6 342.6L368.9 341.5L369.2 340.4L369.5 339.3L369.7 338.1L370.0 337.0L370.3 335.8L370.6 334.6L370.9 334.1L371.2 334.4L371.5 334.7L371.8 335.0L372.1 335.4L372.4 335.7L372.7 336.0L373.0 336.3L373.2 336.6L373.5 336.9L373.8 337.2L374.1 337.5L374.4 337.8L374.7 337.0L375.0 336.0L375.3 334.9L375.6 333.8L375.9 332.7L376.2 331.7L376.4 330.6L376.7 329.5L377.0 328.4L377.3 327.4L377.6 326.3L377.9 325.2L378.2 324.1L378.5 323.0L378.8 322.0L379.1 320.9L379.4 319.7L379.7 318.5L379.9 317.2L380.2 316.0L380.5 315.4L380.8 315.6L381.1 315.9L381.4 316.2L381.7 316.4L382.0 316.7L382.3 317.0L382.6 317.3L382.9 317.5L383.1 317.8L383.4 318.1L383.7 318.3L384.0 318.6L384.3 322.3L384.6 320.6L384.9 319.0L385.2 317.3L385.5 315.6L385.8 314.0L386.1 312.3L386.4 310.6L386.6 308.9L386.9 307.3L387.2 305.6L387.5 303.9L387.8 302.3L388.1 300.6L388.4 298.9L388.7 297.3L389.0 295.6L389.3 294.0L389.6 292.3L389.9 290.7L390.1 290.3L390.4 291.6L390.7 292.8L391.0 294.0L391.3 295.2L391.6 296.5L391.9 297.7L392.2 298.9L392.5 300.1L392.8 301.4L393.1 302.6L393.3 303.9L393.6 305.1L393.9 303.7L394.2 302.0L394.5 300.3L394.8 298.7L395.1 297.0L395.4 295.3L395.7 293.7L396.0 292.0L396.3 290.3L396.6 288.7L396.8 287.0L397.1 285.3L397.4 283.7L397.7 282.0L398.0 280.4L398.3 278.7L398.6 277.1L398.9 275.5L399.2 274.0L399.5 272.4L399.8 272.2L400.1 273.5L400.3 274.8L400.6 276.1L400.9 277.4L401.2 278.7L401.5 280.0L401.8 281.3L402.1 282.6L402.4 283.9L402.7 285.2L403.0 286.4L403.3 287.7L403.5 281.9L403.8 280.9L404.1 279.8L404.4 278.8L404.7 277.7L405.0 276.7L405.3 275.6L405.6 274.5L405.9 273.5L406.2 272.4L406.5 271.3L406.8 270.2L407.0 269.1L407.3 268.0L407.6 266.9L407.9 265.8L408.2 264.7L408.5 263.4L408.8 262.1L409.1 260.8L409.4 260.2L409.7 260.5L410.0 260.7L410.2 261.0L410.5 261.3L410.8 261.5L411.1 261.8L411.4 262.0L411.7 262.3L412.0 262.5L412.3 262.8L412.6 263.0L412.9 263.3L413.2 261.3L413.5 260.2L413.7 259.1L414.0 258.1L414.3 257.0L414.6 255.9L414.9 254.8L415.2 253.7L415.5 252.6L415.8 251.6L416.1 250.5L416.4 249.4L416.7 248.3L417.0 247.2L417.2 246.1L417.5 245.0L417.8 243.8L418.1 242.6L418.4 241.4L418.7 240.1L419.0 239.5L419.3 239.5L419.6 239.6L419.9 239.6L420.2 239.7L420.4 239.7L420.7 239.8L421.0 239.8L421.3 239.9L421.6 239.9L421.9 240.0L422.2 240.0L422.5 240.0L422.8 240.1L423.1 238.8L423.4 237.5L423.7 236.2L423.9 234.9L424.2 233.6L424.5 232.3L424.8 231.0L425.1 229.8L425.4 228.5L425.7 227.2L426.0 225.9L426.3 224.6L426.6 223.3L426.9 222.0L427.2 220.7L427.4 219.3L427.7 218.0L428.0 216.6L428.3 215.3L428.6 214.6L428.9 214.8L429.2 215.1L429.5 215.3L429.8 215.5L430.1 215.7L430.4 216.0L430.6 216.2L430.9 216.4L431.2 216.6L431.5 216.8L431.8 217.1L432.1 217.3L432.4 219.1L432.7 217.4L433.0 215.8L433.3 214.2L433.6 212.6L433.9 211.0L434.1 209.4L434.4 207.7L434.7 206.1L435.0 204.5L435.3 202.9L435.6 201.2L435.9 199.6L436.2 198.0L436.5 196.4L436.8 194.7L437.1 193.1L437.3 191.4L437.6 189.6L437.9 187.9L438.2 187.2L438.5 187.9L438.8 188.6L439.1 189.3L439.4 190.0L439.7 190.7L440.0 191.4L440.3 192.0L440.6 192.7L440.8 193.4L441.1 194.1L441.4 194.8L441.7 195.5L442.0 194.4L442.3 192.6L442.6 190.8L442.9 189.1L443.2 187.3L443.5 185.5L443.8 183.7L444.1 181.9L444.3 180.1L444.6 178.3L444.9 176.5L445.2 174.7L445.5 172.9L445.8 171.1L446.1 169.3L446.4 167.5L446.7 165.8L447.0 164.1L447.3 162.4L447.5 160.7L447.8 160.2L448.1 161.0L448.4 161.9L448.7 162.8L449.0 163.6L449.3 164.5L449.6 165.4L449.9 166.3L450.2 167.1L450.5 168.0L450.8 168.9L451.0 169.7L451.3 170.6L451.6 164.7L451.9 163.5L452.2 162.2L452.5 161.0L452.8 159.8L453.1 158.5L453.4 157.3L453.7 156.1L454.0 154.9L454.3 153.6L454.5 152.4L454.8 151.2L455.1 149.9L455.4 148.7L455.7 147.4L456.0 146.2L456.3 144.9L456.6 143.6L456.9 142.3L457.2 141.0L457.5 140.3L457.7 140.3L458.0 140.3L458.3 140.3L458.6 140.2L458.9 140.2L459.2 140.2L459.5 140.2L459.8 140.2L460.1 140.1L460.4 140.1L460.7 140.1L461.0 140.1L461.2 142.2L461.5 140.5L461.8 138.8L462.1 137.2L462.4 135.5L462.7 133.8L463.0 132.2L463.3 130.5L463.6 128.8L463.9 127.2L464.2 125.5L464.4 123.8L464.7 122.1L465.0 120.5L465.3 118.8L465.6 117.1L465.9 115.5L466.2 113.8L466.5 112.2L466.8 110.6L467.1 110.0L467.4 110.5L467.7 111.1L467.9 111.7L468.2 112.3L468.5 112.9L468.8 113.5L469.1 114.1L469.4 114.6L469.7 115.2L470.0 115.8L470.3 116.4L470.6 117.0L470.9 112.1L471.2 110.8L471.4 109.5L471.7 108.3L472.0 107.0L472.3 105.7L472.6 104.4L472.9 103.1L473.2 101.8L473.5 100.5L473.8 99.2L474.1 97.9L474.4 96.6L474.6 95.3L474.9 94.0L475.2 92.7L475.5 91.4L475.8 90.1L476.1 88.7L476.4 87.4L476.7 86.7L477.0 86.6L477.3 86.6L477.6 86.5L477.9 86.5L478.1 86.4L478.4 86.3L478.7 86.3L479.0 86.2L479.3 86.2L479.6 86.1L479.9 86.1L480.2 86.0L480.5 87.8L480.8 86.2L481.1 84.5L481.4 82.9L481.6 81.2L481.9 79.6L482.2 77.9L482.5 76.2L482.8 74.6L483.1 72.9L483.4 71.3L483.7 69.6L484.0 68.0L484.3 66.3L484.6 64.6L484.8 63.0L485.1 61.3L485.4 59.7L485.7 58.1L486.0 56.5L486.3 55.8L486.6 56.2L486.9 56.7L487.2 57.2L487.5 57.7L487.8 58.2L488.1 58.6L488.3 59.1L488.6 59.6L488.9 60.1L489.2 60.6L489.5 61.1L489.8 61.5L490.1 60.8L490.4 58.9L490.7 57.1L491.0 55.3L491.3 53.5L491.6 51.7L491.8 49.9L492.1 48.0L492.4 46.2L492.7 44.4L493.0 42.5L493.3 40.7L493.6 38.9L493.9 37.0L494.2 35.2L494.5 33.4L494.8 31.6L495.0 29.9L495.3 28.3L495.6 26.6L495.9 25.9" stroke="#D95319" stroke-width="4.1"/>
<path d="M127.3 590.8L128.0 590.7L128.8 590.5L129.5 590.4L130.2 590.3L130.9 590.2L131.7 590.0L132.4 589.9L133.1 589.7L133.9 589.6L134.6 589.5L135.3 589.3L136.0 589.2L136.8 589.0L137.5 588.9L138.2 588.7L139.0 588.5L139.7 588.4L140.4 588.2L141.1 588.1L141.9 587.9L142.6 587.7L143.3 587.6L144.1 587.4L144.8 587.2L145.5 587.1L146.2 586.9L147.0 586.7L147.7 586.5L148.4 586.4L149.2 586.2L149.9 586.0L150.6 585.8L151.3 585.6L152.1 585.4L152.8 585.3L153.5 585.1L154.3 584.9L155.0 584.7L155.7 584.5L156.4 584.3L157.2 584.1L157.9 583.9L158.6 583.7L159.4 583.5L160.1 583.3L160.8 583.1L161.5 582.9L162.3 582.7L163.0 582.5L163.7 582.3L164.5 582.0L165.2 581.8L165.9 581.6L166.6 581.4L167.4 581.2L168.1 581.0L168.8 580.7L169.6 580.5L170.3 580.3L171.0 580.1L171.7 579.9L172.5 579.6L173.2 579.4L173.9 579.2L174.7 579.0L175.4 578.7L176.1 578.5L176.8 578.3L177.6 578.0L178.3 577.8L179.0 577.6L179.8 577.3L180.5 577.1L181.2 576.9L181.9 576.6L182.7 576.4L183.4 576.2L184.1 575.9L184.9 575.7L185.6 575.4L186.3 575.2L187.0 574.9L187.8 574.7L188.5 574.5L189.2 574.2L190.0 574.0L190.7 573.7L191.4 573.5L192.1 573.2L192.9 573.0L193.6 572.7L194.3 572.5L195.1 572.2L195.8 572.0L196.5 571.7L197.2 571.5L198.0 571.2L198.7 571.0L199.4 570.7L200.1 570.4L200.9 570.1L201.6 569.9L202.3 569.6L203.1 569.3L203.8 569.0L204.5 568.7L205.2 568.4L206.0 568.1L206.7 567.8L207.4 567.5L208.2 567.2L208.9 566.9L209.6 566.6L210.3 566.2L211.1 565.9L211.8 565.6L212.5 565.3L213.3 565.0L214.0 564.6L214.7 564.3L215.4 564.0L216.2 563.6L216.9 563.3L217.6 563.0L218.4 562.7L219.1 562.3L219.8 562.0L220.5 561.7L221.3 561.3L222.0 561.0L222.7 560.7L223.5 560.3L224.2 560.0L224.9 559.7L225.6 559.3L226.4 559.0L227.1 558.7L227.8 558.3L228.6 558.0L229.3 557.7L230.0 557.4L230.7 557.0L231.5 556.7L232.2 556.4L232.9 556.0L233.7 555.7L234.4 555.4L235.1 555.0L235.8 554.7L236.6 554.4L237.3 554.0L238.0 553.7L238.8 553.3L239.5 553.0L240.2 552.7L240.9 552.3L241.7 552.0L242.4 551.6L243.1 551.3L243.9 550.9L244.6 550.5L245.3 550.2L246.0 549.8L246.8 549.4L247.5 549.1L248.2 548.7L249.0 548.3L249.7 547.9L250.4 547.5L251.1 547.2L251.9 546.8L252.6 546.4L253.3 546.0L254.1 545.5L254.8 545.1L255.5 544.7L256.2 544.3L257.0 543.9L257.7 543.4L258.4 543.0L259.2 542.5L259.9 542.1L260.6 541.6L261.3 541.2L262.1 540.7L262.8 540.2L263.5 539.8L264.3 539.3L265.0 538.8L265.7 538.3L266.4 537.8L267.2 537.3L267.9 536.8L268.6 536.3L269.4 535.7L270.1 535.2L270.8 534.7L271.5 534.2L272.3 533.6L273.0 533.1L273.7 532.5L274.5 532.0L275.2 531.4L275.9 530.9L276.6 530.3L277.4 529.8L278.1 529.2L278.8 528.6L279.6 528.0L280.3 527.5L281.0 526.9L281.7 526.3L282.5 525.7L283.2 525.1L283.9 524.5L284.7 523.9L285.4 523.3L286.1 522.6L286.8 522.0L287.6 521.4L288.3 520.7L289.0 520.1L289.8 519.4L290.5 518.7L291.2 518.1L291.9 517.4L292.7 516.7L293.4 516.0L294.1 515.3L294.9 514.6L295.6 513.9L296.3 513.2L297.0 512.5L297.8 511.8L298.5 511.1L299.2 510.4L300.0 509.7L300.7 508.9L301.4 508.2L302.1 507.5L302.9 506.8L303.6 506.0L304.3 505.3L305.1 504.6L305.8 503.8L306.5 503.1L307.2 502.4L308.0 501.7L308.7 500.9L309.4 500.2L310.2 499.4L310.9 498.7L311.6 498.0L312.3 497.2L313.1 496.4L313.8 495.7L314.5 494.9L315.3 494.1L316.0 493.4L316.7 492.6L317.4 491.8L318.2 491.0L318.9 490.2L319.6 489.3L320.4 488.5L321.1 487.7L321.8 486.8L322.5 485.9L323.3 485.1L324.0 484.2L324.7 483.3L325.5 482.4L326.2 481.4L326.9 480.5L327.6 479.5L328.4 478.5L329.1 477.5L329.8 476.5L330.6 475.5L331.3 474.5L332.0 473.4L332.7 472.3L333.5 471.2L334.2 470.2L334.9 469.0L335.7 467.9L336.4 466.8L337.1 465.7L337.8 464.5L338.6 463.4L339.3 462.2L340.0 461.0L340.8 459.8L341.5 458.7L342.2 457.5L342.9 456.3L343.7 455.1L344.4 453.9L345.1 452.6L345.9 451.4L346.6 450.2L347.3 448.9L348.0 447.6L348.8 446.3L349.5 444.9L350.2 443.6L350.9 442.2L351.7 440.8L352.4 439.5L353.1 438.1L353.9 436.7L354.6 435.3L355.3 433.9L356.0 432.5L356.8 431.1L357.5 429.7L358.2 428.4L359.0 427.0L359.7 425.7L360.4 424.4L361.1 423.0L361.9 421.8L362.6 420.5L363.3 419.2L364.1 417.9L364.8 416.7L365.5 415.4L366.2 414.2L367.0 413.0L367.7 411.7L368.4 410.5L369.2 409.3L369.9 408.1L370.6 406.9L371.3 405.6L372.1 404.4L372.8 403.2L373.5 402.0L374.3 400.8L375.0 399.6L375.7 398.4L376.4 397.2L377.2 396.0L377.9 394.8L378.6 393.5L379.4 392.3L380.1 391.1L380.8 389.8L381.5 388.6L382.3 387.3L383.0 386.0L383.7 384.8L384.5 383.5L385.2 382.2L385.9 380.9L386.6 379.6L387.4 378.2L388.1 376.9L388.8 375.5L389.6 374.1L390.3 372.7L391.0 371.3L391.7 369.9L392.5 368.5L393.2 367.1L393.9 365.7L394.7 364.2L395.4 362.8L396.1 361.3L396.8 359.9L397.6 358.4L398.3 356.9L399.0 355.4L399.8 353.9L400.5 352.4L401.2 350.9L401.9 349.4L402.7 347.9L403.4 346.4L404.1 344.8L404.9 343.3L405.6 341.7L406.3 340.2L407.0 338.6L407.8 337.0L408.5 335.4L409.2 333.8L410.0 332.2L410.7 330.6L411.4 329.0L412.1 327.4L412.9 325.8L413.6 324.2L414.3 322.5L415.1 320.9L415.8 319.2L416.5 317.6L417.2 315.9L418.0 314.2L418.7 312.5L419.4 310.9L420.2 309.2L420.9 307.5L421.6 305.8L422.3 304.0L423.1 302.3L423.8 300.6L424.5 298.8L425.3 297.1L426.0 295.3L426.7 293.5L427.4 291.7L428.2 289.9L428.9 288.1L429.6 286.3L430.4 284.5L431.1 282.6L431.8 280.7L432.5 278.8L433.3 277.0L434.0 275.0L434.7 273.1L435.5 271.2L436.2 269.2L436.9 267.2L437.6 265.3L438.4 263.2L439.1 261.2L439.8 259.2L440.6 257.1L441.3 255.1L442.0 253.0L442.7 250.9L443.5 248.8L444.2 246.7L444.9 244.6L445.7 242.5L446.4 240.3L447.1 238.2L447.8 236.0L448.6 233.8L449.3 231.6L450.0 229.4L450.8 227.2L451.5 225.0L452.2 222.7L452.9 220.5L453.7 218.2L454.4 215.9L455.1 213.6L455.9 211.3L456.6 208.9L457.3 206.6L458.0 204.2L458.8 201.8L459.5 199.4L460.2 197.0L461.0 194.6L461.7 192.1L462.4 189.7L463.1 187.2L463.9 184.7L464.6 182.1L465.3 179.6L466.1 177.0L466.8 174.4L467.5 171.9L468.2 169.2L469.0 166.6L469.7 163.9L470.4 161.3L471.2 158.6L471.9 155.8L472.6 153.0L473.3 150.2L474.1 147.3L474.8 144.4L475.5 141.4L476.3 138.4L477.0 135.4L477.7 132.3L478.4 129.2L479.2 126.1L479.9 122.9L480.6 119.7L481.4 116.5L482.1 113.2L482.8 110.0L483.5 106.7L484.3 103.4L485.0 100.1L485.7 96.8L486.5 93.5L487.2 90.1L487.9 86.8L488.6 83.5L489.4 80.1L490.1 76.8L490.8 73.5L491.6 70.1L492.3 66.8L493.0 63.5L493.7 60.3L494.5 57.0L495.2 53.7L495.9 50.5L496.6 47.3L497.4 44.0" stroke="#D95319" stroke-width="4.1" stroke-dasharray="15.5 16.5"/>
<path d="M127.3 528.1L127.6 526.7L127.9 525.2L128.2 523.7L128.5 522.2L128.8 520.7L129.0 519.3L129.3 517.8L129.6 516.3L129.9 514.9L130.2 513.5L130.5 512.1L130.8 510.7L131.1 509.6L131.4 509.6L131.7 509.7L132.0 509.8L132.3 509.8L132.5 509.9L132.8 510.0L133.1 510.0L133.4 510.1L133.7 510.2L134.0 510.3L134.3 510.4L134.6 510.5L134.9 510.6L135.2 510.8L135.5 515.2L135.8 513.5L136.0 511.8L136.3 510.1L136.6 508.4L136.9 506.7L137.2 505.0L137.5 503.4L137.8 501.7L138.1 500.1L138.4 498.5L138.7 496.9L139.0 495.3L139.2 493.7L139.5 492.1L139.8 490.5L140.1 489.0L140.4 487.4L140.7 485.9L141.0 484.4L141.3 482.8L141.6 481.5L141.9 480.2L142.2 478.8L142.5 477.5L142.7 476.7L143.0 477.7L143.3 478.6L143.6 479.6L143.9 480.6L144.2 481.6L144.5 482.6L144.8 483.6L145.1 484.6L145.4 485.6L145.7 486.6L145.9 487.6L146.2 488.6L146.5 489.6L146.8 490.6L147.1 491.5L147.4 490.2L147.7 488.8L148.0 487.4L148.3 486.0L148.6 484.6L148.9 483.3L149.2 481.9L149.4 480.5L149.7 479.1L150.0 477.8L150.3 476.4L150.6 475.0L150.9 473.6L151.2 472.3L151.5 470.9L151.8 469.5L152.1 468.1L152.4 466.7L152.7 465.3L152.9 463.9L153.2 462.6L153.5 461.3L153.8 459.9L154.1 458.6L154.4 457.7L154.7 458.6L155.0 459.4L155.3 460.2L155.6 461.1L155.9 461.9L156.1 462.7L156.4 463.5L156.7 464.3L157.0 465.1L157.3 465.9L157.6 466.6L157.9 467.4L158.2 468.2L158.5 469.0L158.8 466.7L159.1 465.5L159.4 464.3L159.6 463.1L159.9 461.8L160.2 460.6L160.5 459.4L160.8 458.1L161.1 456.9L161.4 455.6L161.7 454.4L162.0 453.2L162.3 451.9L162.6 450.7L162.9 449.4L163.1 448.1L163.4 446.9L163.7 445.6L164.0 444.4L164.3 443.1L164.6 441.8L164.9 440.6L165.2 439.3L165.5 438.1L165.8 436.8L166.1 435.8L166.3 436.1L166.6 436.3L166.9 436.5L167.2 436.8L167.5 437.0L167.8 437.2L168.1 437.4L168.4 437.6L168.7 437.8L169.0 438.0L169.3 438.2L169.6 438.4L169.8 438.5L170.1 438.7L170.4 438.8L170.7 437.5L171.0 436.0L171.3 434.6L171.6 433.2L171.9 431.7L172.2 430.2L172.5 428.8L172.8 427.3L173.0 425.8L173.3 424.4L173.6 422.9L173.9 421.4L174.2 419.9L174.5 418.4L174.8 417.0L175.1 415.5L175.4 414.0L175.7 412.5L176.0 411.0L176.3 409.5L176.5 408.1L176.8 406.7L177.1 405.3L177.4 403.9L177.7 402.8L178.0 402.8L178.3 402.8L178.6 402.8L178.9 402.8L179.2 402.7L179.5 402.7L179.8 402.7L180.0 402.7L180.3 402.7L180.6 402.6L180.9 402.6L181.2 402.6L181.5 402.5L181.8 402.5L182.1 403.0L182.4 401.5L182.7 400.1L183.0 398.7L183.2 397.2L183.5 395.8L183.8 394.4L184.1 393.0L184.4 391.6L184.7 390.2L185.0 388.8L185.3 387.4L185.6 386.0L185.9 384.6L186.2 383.2L186.5 381.8L186.7 380.4L187.0 379.0L187.3 377.6L187.6 376.3L187.9 374.9L188.2 373.5L188.5 372.1L188.8 370.7L189.1 369.3L189.4 368.2L189.7 368.2L190.0 368.1L190.2 368.1L190.5 368.1L190.8 368.0L191.1 368.0L191.4 368.0L191.7 367.9L192.0 367.9L192.3 367.8L192.6 367.7L192.9 367.7L193.2 367.6L193.4 367.6L193.7 368.8L194.0 367.3L194.3 365.9L194.6 364.4L194.9 363.0L195.2 361.6L195.5 360.1L195.8 358.7L196.1 357.3L196.4 355.9L196.7 354.6L196.9 353.2L197.2 351.8L197.5 350.4L197.8 349.1L198.1 347.7L198.4 346.4L198.7 345.0L199.0 343.6L199.3 342.3L199.6 340.9L199.9 339.6L200.1 338.3L200.4 337.0L200.7 335.7L201.0 334.6L201.3 334.7L201.6 334.8L201.9 334.9L202.2 335.0L202.5 335.1L202.8 335.2L203.1 335.2L203.4 335.2L203.6 335.3L203.9 335.3L204.2 335.3L204.5 335.3L204.8 335.2L205.1 335.2L205.4 334.1L205.7 332.6L206.0 331.0L206.3 329.4L206.6 327.8L206.9 326.1L207.1 324.5L207.4 322.8L207.7 321.1L208.0 319.4L208.3 317.6L208.6 315.9L208.9 314.1L209.2 312.3L209.5 310.5L209.8 308.7L210.1 306.9L210.3 305.0L210.6 303.2L210.9 301.3L211.2 299.5L211.5 297.7L211.8 295.9L212.1 294.1L212.4 292.3L212.7 290.8L213.0 290.2L213.3 289.7L213.6 289.1L213.8 288.6L214.1 288.0L214.4 287.5L214.7 286.9L215.0 286.4L215.3 285.9L215.6 285.3L215.9 284.8L216.2 284.3L216.5 283.8L216.8 283.3L217.1 281.9L217.3 280.2L217.6 278.5L217.9 276.9L218.2 275.3L218.5 273.6L218.8 272.0L219.1 270.5L219.4 268.9L219.7 267.3L220.0 265.8L220.3 264.3L220.5 262.7L220.8 261.2L221.1 259.7L221.4 258.2L221.7 256.7L222.0 255.2L222.3 253.7L222.6 252.3L222.9 250.8L223.2 249.3L223.5 247.8L223.8 246.4L224.0 244.9L224.3 243.6L224.6 243.2L224.9 242.8L225.2 242.4L225.5 242.0L225.8 241.6L226.1 241.2L226.4 240.8L226.7 240.4L227.0 240.0L227.3 239.6L227.5 239.2L227.8 238.8L228.1 238.4L228.4 238.0L228.7 239.1L229.0 237.5L229.3 235.8L229.6 234.2L229.9 232.6L230.2 230.9L230.5 229.3L230.7 227.6L231.0 226.0L231.3 224.3L231.6 222.7L231.9 221.0L232.2 219.4L232.5 217.7L232.8 216.0L233.1 214.3L233.4 212.6L233.7 210.9L234.0 209.2L234.2 207.5L234.5 205.8L234.8 204.2L235.1 202.6L235.4 201.0L235.7 199.4L236.0 198.0L236.3 197.8L236.6 197.5L236.9 197.3L237.2 197.0L237.4 196.8L237.7 196.5L238.0 196.3L238.3 196.0L238.6 195.8L238.9 195.5L239.2 195.2L239.5 194.9L239.8 194.7L240.1 194.4L240.4 193.0L240.7 191.4L240.9 189.7L241.2 188.0L241.5 186.3L241.8 184.6L242.1 182.9L242.4 181.2L242.7 179.5L243.0 177.8L243.3 176.0L243.6 174.3L243.9 172.6L244.2 170.8L244.4 169.1L244.7 167.4L245.0 165.6L245.3 163.8L245.6 162.1L245.9 160.3L246.2 158.5L246.5 156.8L246.8 155.1L247.1 153.4L247.4 151.7L247.6 150.2L247.9 149.7L248.2 149.1L248.5 148.5L248.8 148.0L249.1 147.4L249.4 146.8L249.7 146.2L250.0 145.6L250.3 145.0L250.6 144.4L250.9 143.8L251.1 143.2L251.4 142.6L251.7 142.0L252.0 145.5L252.3 143.3L252.6 141.0L252.9 138.7L253.2 136.5L253.5 134.2L253.8 131.8L254.1 129.5L254.4 127.2L254.6 124.8L254.9 122.4L255.2 120.0L255.5 117.6L255.8 115.2L256.1 112.7L256.4 110.2L256.7 107.7L257.0 105.2L257.3 102.6L257.6 100.0L257.8 97.4L258.1 94.8L258.4 92.3L258.7 89.7L259.0 87.0L259.3 84.8L259.6 84.1L259.9 83.4L260.2 82.7L260.5 82.0L260.8 81.2L261.1 80.5L261.3 79.7L261.6 78.9L261.9 78.1L262.2 77.3L262.5 76.4L262.8 75.6L263.1 74.7L263.4 73.9L263.7 73.5L264.0 70.5L264.3 67.6L264.5 64.7L264.8 61.8L265.1 58.9L265.4 56.0L265.7 53.0L266.0 50.1L266.3 47.2L266.6 44.2L266.9 41.3L267.2 38.3L267.5 35.3L267.8 32.3L268.0 29.3L268.3 26.3L268.6 23.3" stroke="#7E2F8E" stroke-width="4.1"/>
<path d="M127.3 590.8L128.0 589.5L128.8 588.1L129.5 586.7L130.2 585.3L130.9 583.8L131.7 582.4L132.4 580.9L133.1 579.4L133.9 577.8L134.6 576.3L135.3 574.7L136.0 573.1L136.8 571.5L137.5 569.8L138.2 568.2L139.0 566.5L139.7 564.8L140.4 563.1L141.1 561.4L141.9 559.6L142.6 557.8L143.3 556.0L144.1 554.2L144.8 552.4L145.5 550.6L146.2 548.7L147.0 546.9L147.7 545.0L148.4 543.0L149.2 541.1L149.9 539.1L150.6 537.0L151.3 534.9L152.1 532.8L152.8 530.7L153.5 528.5L154.3 526.3L155.0 524.1L155.7 521.9L156.4 519.6L157.2 517.4L157.9 515.1L158.6 512.8L159.4 510.5L160.1 508.2L160.8 505.8L161.5 503.5L162.3 501.2L163.0 498.9L163.7 496.6L164.5 494.2L165.2 491.9L165.9 489.6L166.6 487.3L167.4 484.9L168.1 482.5L168.8 480.2L169.6 477.8L170.3 475.4L171.0 472.9L171.7 470.5L172.5 468.1L173.2 465.6L173.9 463.2L174.7 460.7L175.4 458.3L176.1 455.9L176.8 453.4L177.6 451.0L178.3 448.5L179.0 446.1L179.8 443.7L180.5 441.4L181.2 439.1L181.9 436.8L182.7 434.5L183.4 432.2L184.1 429.9L184.9 427.6L185.6 425.3L186.3 423.0L187.0 420.6L187.8 418.2L188.5 415.7L189.2 413.2L190.0 410.6L190.7 407.9L191.4 405.1L192.1 402.3L192.9 399.3L193.6 396.2L194.3 392.9L195.1 389.5L195.8 386.1L196.5 382.5L197.2 378.8L198.0 375.1L198.7 371.4L199.4 367.6L200.1 363.9L200.9 360.1L201.6 356.2L202.3 352.2L203.1 348.2L203.8 344.1L204.5 340.0L205.2 335.9L206.0 331.7L206.7 327.5L207.4 323.4L208.2 319.2L208.9 315.0L209.6 310.8L210.3 306.6L211.1 302.3L211.8 298.0L212.5 293.7L213.3 289.2L214.0 284.7L214.7 280.1L215.4 275.4L216.2 270.6L216.9 265.8L217.6 260.8L218.4 255.8L219.1 250.7L219.8 245.5L220.5 240.3L221.3 235.1L222.0 229.9L222.7 224.6L223.5 219.2L224.2 213.9L224.9 208.4L225.6 202.9L226.4 197.4L227.1 191.8L227.8 186.1L228.6 180.5L229.3 174.8L230.0 169.1L230.7 163.3L231.5 157.6L232.2 151.8L232.9 146.0L233.7 140.1L234.4 134.1L235.1 128.0L235.8 121.7L236.6 115.3L237.3 108.8L238.0 102.1L238.8 95.2L239.5 88.2L240.2 81.1L240.9 73.9L241.7 66.6L242.4 59.3L243.1 52.0L243.9 44.6L244.6 37.0" stroke="#7E2F8E" stroke-width="4.1" stroke-dasharray="15.5 16.5"/>
</g>
<path d="M272.5 590.8v-9.0M272.5 50.5v9.0M418.4 590.8v-9.0M418.4 50.5v9.0M564.3 590.8v-9.0M564.3 50.5v9.0M710.0 590.8v-9.0M710.0 50.5v9.0M856.1 590.8v-9.0M856.1 50.5v9.0M127.3 483.6h9.0M1001.5 483.6h-9.0M127.3 374.5h9.0M1001.5 374.5h-9.0M127.3 266.6h9.0M1001.5 266.6h-9.0M127.3 157.5h9.0M1001.5 157.5h-9.0" stroke="#262626" stroke-width="2.2" fill="none"/>
<rect x="127.3" y="50.5" width="874.2" height="540.3" fill="none" stroke="#262626" stroke-width="2.8"/>
<g font-family="Liberation Sans, Arial, Helvetica, sans-serif" font-size="43.6" fill="#262626">
<text x="127.2" y="645.6" text-anchor="middle">0</text>
<text x="272.5" y="645.6" text-anchor="middle">10</text>
<text x="418.4" y="645.6" text-anchor="middle">20</text>
<text x="564.3" y="645.6" text-anchor="middle">30</text>
<text x="710.0" y="645.6" text-anchor="middle">40</text>
<text x="856.1" y="645.6" text-anchor="middle">50</text>
<text x="1001.6" y="645.6" text-anchor="middle">60</text>
<text x="112.6" y="607.8" text-anchor="end">0</text>
<text x="112.6" y="498.9" text-anchor="end">0.2</text>
<text x="112.6" y="391.4" text-anchor="end">0.4</text>
<text x="112.6" y="282.4" text-anchor="end">0.6</text>
<text x="112.6" y="174.7" text-anchor="end">0.8</text>
<text x="114.4" y="65.3" text-anchor="end">1</text>
</g>
<g font-family="Liberation Sans, Arial, Helvetica, sans-serif" font-size="48.5" fill="#262626">
<text x="564.4" y="702.3" font-size="48" text-anchor="middle">Time, s</text>
<text transform="translate(35.3 325.9) rotate(-90)" font-size="46.8" text-anchor="middle">Voltage, V</text>
</g>
<text x="564.4" y="35" text-anchor="middle" font-family="Liberation Sans, Arial, Helvetica, sans-serif" font-size="47.4" font-weight="bold" fill="#000">ASTRA conductor at 10.9 T</text>
<g font-family="Liberation Sans, Arial, Helvetica, sans-serif" font-size="37.5">
<text fill="#7E2F8E"><tspan x="136.5" y="116">15 kA,</tspan><tspan x="136.5" y="164.3">overcurrent</tspan></text>
<text fill="#D95319"><tspan x="436" y="281">12 kA,</tspan><tspan x="436" y="329">helium heating</tspan></text>
<text fill="#0072BD"><tspan x="735.3" y="471.5">9 kA,</tspan><tspan x="735.3" y="520.3">helium heating</tspan></text>
</g>
</svg>
</body></html>
